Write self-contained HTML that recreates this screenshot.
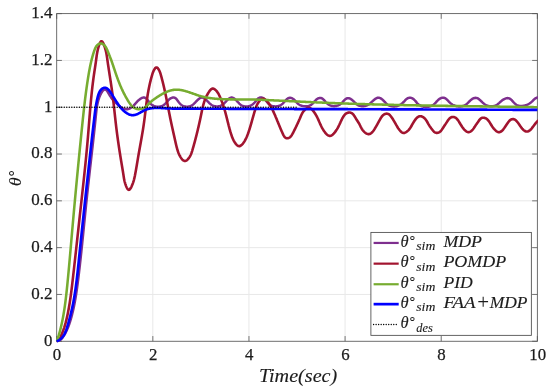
<!DOCTYPE html>
<html><head><meta charset="utf-8"><title>plot</title>
<style>
html,body{margin:0;padding:0;background:#fff;}
svg{display:block;}
text{font-family:"Liberation Serif",serif;fill:#1c1c1c;stroke:#1c1c1c;stroke-width:0.25;}
.it{font-style:italic;stroke-width:0.12;}
.rm{font-style:normal;stroke-width:0;}
.grid line{stroke:#e8e8e8;stroke-width:1;}
.ticks line{stroke:#555;stroke-width:0.8;}
.curve{fill:none;stroke-linejoin:round;stroke-linecap:butt;}
</style></head><body>
<svg width="550" height="391" viewBox="0 0 550 391">
<rect x="0" y="0" width="550" height="391" fill="#fff"/>
<g class="grid"><line x1="152.83" y1="13.62" x2="152.83" y2="341.26"/><line x1="248.96" y1="13.62" x2="248.96" y2="341.26"/><line x1="345.09" y1="13.62" x2="345.09" y2="341.26"/><line x1="441.22" y1="13.62" x2="441.22" y2="341.26"/><line x1="56.7" y1="294.45" x2="537.35" y2="294.45"/><line x1="56.7" y1="247.65" x2="537.35" y2="247.65"/><line x1="56.7" y1="200.84" x2="537.35" y2="200.84"/><line x1="56.7" y1="154.04" x2="537.35" y2="154.04"/><line x1="56.7" y1="107.23" x2="537.35" y2="107.23"/><line x1="56.7" y1="60.43" x2="537.35" y2="60.43"/></g>
<g class="ticks"><line x1="56.70" y1="341.26" x2="56.70" y2="336.06"/><line x1="56.70" y1="13.62" x2="56.70" y2="18.82"/><line x1="152.83" y1="341.26" x2="152.83" y2="336.06"/><line x1="152.83" y1="13.62" x2="152.83" y2="18.82"/><line x1="248.96" y1="341.26" x2="248.96" y2="336.06"/><line x1="248.96" y1="13.62" x2="248.96" y2="18.82"/><line x1="345.09" y1="341.26" x2="345.09" y2="336.06"/><line x1="345.09" y1="13.62" x2="345.09" y2="18.82"/><line x1="441.22" y1="341.26" x2="441.22" y2="336.06"/><line x1="441.22" y1="13.62" x2="441.22" y2="18.82"/><line x1="537.35" y1="341.26" x2="537.35" y2="336.06"/><line x1="537.35" y1="13.62" x2="537.35" y2="18.82"/><line x1="56.7" y1="341.26" x2="61.900000000000006" y2="341.26"/><line x1="537.35" y1="341.26" x2="532.15" y2="341.26"/><line x1="56.7" y1="294.45" x2="61.900000000000006" y2="294.45"/><line x1="537.35" y1="294.45" x2="532.15" y2="294.45"/><line x1="56.7" y1="247.65" x2="61.900000000000006" y2="247.65"/><line x1="537.35" y1="247.65" x2="532.15" y2="247.65"/><line x1="56.7" y1="200.84" x2="61.900000000000006" y2="200.84"/><line x1="537.35" y1="200.84" x2="532.15" y2="200.84"/><line x1="56.7" y1="154.04" x2="61.900000000000006" y2="154.04"/><line x1="537.35" y1="154.04" x2="532.15" y2="154.04"/><line x1="56.7" y1="107.23" x2="61.900000000000006" y2="107.23"/><line x1="537.35" y1="107.23" x2="532.15" y2="107.23"/><line x1="56.7" y1="60.43" x2="61.900000000000006" y2="60.43"/><line x1="537.35" y1="60.43" x2="532.15" y2="60.43"/><line x1="56.7" y1="13.62" x2="61.900000000000006" y2="13.62"/><line x1="537.35" y1="13.62" x2="532.15" y2="13.62"/></g>
<rect x="56.7" y="13.62" width="480.65" height="327.64" fill="none" stroke="#555" stroke-width="0.85"/>
<clipPath id="c"><rect x="55.7" y="13.62" width="482.25" height="329.14"/></clipPath>
<g clip-path="url(#c)">
<path class="curve" d="M56.57 341.19 L57.30 341.08 L57.98 340.92 L58.61 340.72 L59.20 340.47 L59.75 340.19 L60.27 339.87 L60.75 339.52 L61.20 339.14 L61.62 338.73 L62.02 338.30 L62.40 337.85 L62.76 337.38 L63.10 336.90 L63.43 336.41 L63.75 335.91 L64.06 335.40 L64.37 334.90 L64.67 334.38 L64.96 333.87 L65.24 333.35 L65.52 332.82 L65.80 332.29 L66.07 331.76 L66.33 331.23 L66.59 330.69 L66.84 330.15 L67.08 329.60 L67.33 329.05 L67.56 328.50 L67.79 327.95 L68.02 327.40 L68.24 326.84 L68.46 326.28 L68.67 325.72 L68.88 325.15 L69.08 324.58 L69.28 324.02 L69.48 323.44 L69.67 322.87 L69.85 322.30 L70.04 321.72 L70.22 321.15 L70.40 320.57 L70.57 319.99 L70.74 319.41 L70.91 318.83 L71.08 318.25 L71.24 317.66 L71.40 317.08 L71.56 316.50 L71.71 315.91 L71.87 315.33 L72.02 314.74 L72.17 314.16 L72.31 313.57 L72.46 312.99 L72.60 312.40 L72.74 311.82 L72.88 311.23 L73.01 310.65 L73.15 310.06 L73.28 309.47 L73.41 308.88 L73.54 308.30 L73.67 307.71 L73.79 307.12 L73.91 306.53 L74.04 305.95 L74.16 305.36 L74.27 304.77 L74.39 304.18 L74.50 303.59 L74.62 303.00 L74.73 302.41 L74.84 301.82 L74.95 301.23 L75.05 300.64 L75.16 300.05 L75.26 299.46 L75.37 298.87 L75.47 298.28 L75.57 297.69 L75.67 297.10 L75.76 296.51 L75.86 295.92 L75.96 295.33 L76.05 294.73 L76.14 294.14 L76.23 293.55 L76.32 292.96 L76.41 292.37 L76.50 291.77 L76.59 291.18 L76.68 290.59 L76.76 289.99 L76.85 289.40 L76.93 288.81 L77.01 288.22 L77.10 287.62 L77.18 287.03 L77.26 286.43 L77.34 285.84 L77.42 285.25 L77.50 284.65 L77.57 284.06 L77.65 283.47 L77.73 282.87 L77.81 282.28 L77.88 281.68 L77.96 281.09 L78.03 280.49 L78.11 279.90 L78.18 279.31 L78.26 278.71 L78.33 278.12 L78.40 277.52 L78.48 276.93 L78.55 276.33 L78.62 275.74 L78.69 275.14 L78.76 274.55 L78.84 273.95 L78.91 273.36 L78.98 272.76 L79.05 272.17 L79.12 271.57 L79.19 270.97 L79.26 270.38 L79.33 269.78 L79.40 269.19 L79.47 268.59 L79.54 268.00 L79.60 267.40 L79.67 266.81 L79.74 266.21 L79.81 265.61 L79.88 265.02 L79.94 264.42 L80.01 263.83 L80.08 263.23 L80.14 262.63 L80.21 262.04 L80.28 261.44 L80.34 260.85 L80.41 260.25 L80.47 259.65 L80.54 259.06 L80.60 258.46 L80.67 257.86 L80.73 257.27 L80.80 256.67 L80.86 256.08 L80.93 255.48 L80.99 254.88 L81.05 254.29 L81.12 253.69 L81.18 253.09 L81.25 252.50 L81.31 251.90 L81.37 251.30 L81.43 250.71 L81.50 250.11 L81.56 249.51 L81.62 248.92 L81.68 248.32 L81.75 247.72 L81.81 247.12 L81.87 246.53 L81.93 245.93 L81.99 245.33 L82.06 244.74 L82.12 244.14 L82.18 243.54 L82.24 242.95 L82.30 242.35 L82.36 241.75 L82.42 241.15 L82.48 240.56 L82.54 239.96 L82.60 239.36 L82.67 238.77 L82.73 238.17 L82.79 237.57 L82.85 236.97 L82.91 236.38 L82.97 235.78 L83.03 235.18 L83.09 234.58 L83.15 233.99 L83.21 233.39 L83.27 232.79 L83.33 232.19 L83.39 231.60 L83.45 231.00 L83.51 230.40 L83.57 229.81 L83.63 229.21 L83.69 228.61 L83.75 228.01 L83.80 227.42 L83.86 226.82 L83.92 226.22 L83.98 225.62 L84.04 225.03 L84.10 224.43 L84.16 223.83 L84.22 223.23 L84.28 222.64 L84.34 222.04 L84.40 221.44 L84.46 220.84 L84.52 220.25 L84.58 219.65 L84.64 219.05 L84.70 218.46 L84.76 217.86 L84.82 217.26 L84.88 216.66 L84.94 216.07 L85.00 215.47 L85.06 214.87 L85.12 214.27 L85.18 213.68 L85.24 213.08 L85.30 212.48 L85.36 211.89 L85.42 211.29 L85.48 210.69 L85.54 210.09 L85.60 209.50 L85.67 208.90 L85.73 208.30 L85.79 207.71 L85.85 207.11 L85.91 206.51 L85.97 205.91 L86.03 205.32 L86.09 204.72 L86.16 204.12 L86.22 203.53 L86.28 202.93 L86.34 202.33 L86.41 201.74 L86.47 201.14 L86.53 200.54 L86.59 199.95 L86.66 199.35 L86.72 198.75 L86.78 198.16 L86.85 197.56 L86.91 196.96 L86.97 196.37 L87.04 195.77 L87.10 195.17 L87.16 194.58 L87.23 193.98 L87.29 193.38 L87.36 192.79 L87.42 192.19 L87.49 191.59 L87.55 191.00 L87.62 190.40 L87.68 189.81 L87.75 189.21 L87.81 188.61 L87.88 188.02 L87.94 187.42 L88.01 186.82 L88.07 186.23 L88.14 185.63 L88.20 185.04 L88.27 184.44 L88.34 183.84 L88.40 183.25 L88.47 182.65 L88.54 182.06 L88.60 181.46 L88.67 180.86 L88.73 180.27 L88.80 179.67 L88.87 179.08 L88.93 178.48 L89.00 177.88 L89.07 177.29 L89.14 176.69 L89.20 176.10 L89.27 175.50 L89.34 174.90 L89.40 174.31 L89.47 173.71 L89.54 173.12 L89.60 172.52 L89.67 171.92 L89.74 171.33 L89.81 170.73 L89.87 170.14 L89.94 169.54 L90.01 168.94 L90.08 168.35 L90.14 167.75 L90.21 167.16 L90.28 166.56 L90.35 165.96 L90.41 165.37 L90.48 164.77 L90.55 164.18 L90.62 163.58 L90.69 162.99 L90.75 162.39 L90.82 161.79 L90.89 161.20 L90.96 160.60 L91.02 160.01 L91.09 159.41 L91.16 158.81 L91.23 158.22 L91.29 157.62 L91.36 157.03 L91.43 156.43 L91.50 155.83 L91.56 155.24 L91.63 154.64 L91.70 154.05 L91.77 153.45 L91.83 152.85 L91.90 152.26 L91.97 151.66 L92.04 151.06 L92.10 150.47 L92.17 149.87 L92.24 149.28 L92.30 148.68 L92.37 148.08 L92.44 147.49 L92.51 146.89 L92.57 146.30 L92.64 145.70 L92.71 145.10 L92.77 144.51 L92.84 143.91 L92.91 143.31 L92.97 142.72 L93.04 142.12 L93.10 141.52 L93.17 140.93 L93.24 140.33 L93.30 139.73 L93.37 139.14 L93.43 138.54 L93.50 137.94 L93.57 137.35 L93.63 136.75 L93.70 136.15 L93.76 135.56 L93.83 134.96 L93.89 134.36 L93.96 133.77 L94.02 133.17 L94.09 132.57 L94.15 131.98 L94.22 131.38 L94.28 130.78 L94.35 130.19 L94.41 129.59 L94.47 128.99 L94.54 128.39 L94.60 127.80 L94.66 127.20 L94.73 126.60 L94.79 126.01 L94.85 125.41 L94.92 124.81 L94.98 124.21 L95.04 123.62 L95.11 123.02 L95.17 122.42 L95.23 121.82 L95.29 121.23 L95.36 120.63 L95.42 120.03 L95.48 119.43 L95.54 118.83 L95.60 118.24 L95.66 117.64 L95.72 117.04 L95.78 116.44 L95.84 115.84 L95.91 115.25 L95.97 114.65 L96.03 114.05 L96.09 113.45 L96.15 112.86 L96.22 112.26 L96.28 111.66 L96.35 111.07 L96.42 110.47 L96.50 109.88 L96.57 109.28 L96.65 108.69 L96.74 108.10 L96.82 107.51 L96.91 106.92 L97.01 106.33 L97.11 105.74 L97.21 105.15 L97.32 104.57 L97.44 103.99 L97.56 103.40 L97.69 102.82 L97.82 102.25 L97.96 101.67 L98.11 101.09 L98.27 100.52 L98.43 99.95 L98.60 99.38 L98.78 98.82 L98.97 98.25 L99.17 97.68 L99.38 97.11 L99.61 96.53 L99.86 95.94 L100.12 95.34 L100.41 94.71 L100.73 94.08 L101.06 93.44 L101.41 92.81 L101.78 92.20 L102.16 91.62 L102.55 91.08 L102.95 90.59 L103.35 90.17 L103.76 89.83 L104.17 89.57 L104.58 89.41 L104.98 89.37 L105.38 89.44 L105.77 89.63 L106.15 89.91 L106.53 90.28 L106.91 90.72 L107.28 91.23 L107.65 91.78 L108.02 92.38 L108.38 93.00 L108.74 93.63 L109.10 94.26 L109.46 94.88 L109.82 95.49 L110.18 96.06 L110.54 96.62 L110.90 97.15 L111.26 97.67 L111.62 98.17 L111.99 98.65 L112.36 99.12 L112.73 99.57 L113.11 100.01 L113.49 100.44 L113.87 100.86 L114.26 101.28 L114.65 101.69 L115.05 102.09 L115.46 102.49 L115.87 102.89 L116.29 103.28 L116.72 103.68 L117.15 104.08 L117.60 104.47 L118.05 104.86 L118.51 105.24 L118.98 105.62 L119.46 106.00 L119.95 106.36 L120.45 106.72 L120.96 107.07 L121.48 107.41 L122.01 107.74 L122.56 108.05 L123.11 108.34 L123.67 108.59 L124.23 108.82 L124.80 109.00 L125.38 109.14 L125.96 109.23 L126.54 109.26 L127.12 109.23 L127.71 109.14 L128.29 109.01 L128.86 108.82 L129.43 108.60 L129.99 108.33 L130.53 108.04 L131.05 107.71 L131.56 107.37 L132.04 107.00 L132.51 106.62 L132.95 106.22 L133.38 105.81 L133.79 105.40 L134.19 104.97 L134.58 104.54 L134.97 104.10 L135.36 103.65 L135.75 103.20 L136.14 102.75 L136.54 102.30 L136.95 101.85 L137.38 101.41 L137.82 100.96 L138.28 100.52 L138.77 100.09 L139.28 99.67 L139.81 99.26 L140.37 98.87 L140.93 98.52 L141.50 98.21 L142.08 97.94 L142.64 97.74 L143.20 97.60 L143.73 97.55 L144.25 97.57 L144.74 97.68 L145.21 97.87 L145.66 98.13 L146.10 98.45 L146.52 98.82 L146.94 99.23 L147.34 99.68 L147.74 100.16 L148.13 100.66 L148.53 101.18 L148.92 101.70 L149.32 102.21 L149.73 102.72 L150.14 103.21 L150.57 103.67 L151.01 104.10 L151.47 104.49 L151.94 104.85 L152.42 105.17 L152.92 105.47 L153.43 105.73 L153.95 105.95 L154.48 106.15 L155.03 106.32 L155.58 106.45 L156.15 106.55 L156.73 106.63 L157.32 106.67 L157.91 106.69 L158.52 106.68 L159.12 106.64 L159.73 106.56 L160.33 106.45 L160.93 106.31 L161.51 106.14 L162.09 105.93 L162.64 105.68 L163.18 105.40 L163.69 105.08 L164.17 104.72 L164.64 104.33 L165.08 103.91 L165.51 103.47 L165.93 103.02 L166.34 102.55 L166.74 102.08 L167.14 101.60 L167.54 101.13 L167.94 100.67 L168.35 100.22 L168.77 99.78 L169.20 99.37 L169.65 98.99 L170.11 98.64 L170.59 98.33 L171.10 98.06 L171.64 97.84 L172.20 97.68 L172.77 97.57 L173.34 97.53 L173.91 97.56 L174.46 97.67 L174.98 97.87 L175.46 98.15 L175.91 98.51 L176.34 98.93 L176.74 99.40 L177.13 99.90 L177.51 100.42 L177.88 100.96 L178.25 101.48 L178.63 102.00 L179.02 102.49 L179.41 102.96 L179.81 103.41 L180.22 103.84 L180.65 104.24 L181.09 104.62 L181.54 104.97 L182.01 105.29 L182.50 105.58 L183.00 105.84 L183.52 106.06 L184.07 106.25 L184.64 106.41 L185.23 106.53 L185.84 106.61 L186.46 106.65 L187.09 106.66 L187.72 106.63 L188.36 106.56 L188.98 106.46 L189.59 106.32 L190.17 106.14 L190.74 105.93 L191.27 105.68 L191.78 105.40 L192.27 105.09 L192.74 104.76 L193.19 104.40 L193.64 104.02 L194.06 103.63 L194.49 103.22 L194.90 102.79 L195.32 102.36 L195.73 101.92 L196.15 101.48 L196.57 101.04 L197.00 100.59 L197.44 100.16 L197.90 99.73 L198.37 99.31 L198.86 98.92 L199.36 98.55 L199.88 98.22 L200.41 97.94 L200.94 97.74 L201.47 97.61 L202.01 97.57 L202.55 97.62 L203.08 97.77 L203.61 97.99 L204.13 98.28 L204.64 98.62 L205.14 98.99 L205.62 99.39 L206.09 99.81 L206.54 100.23 L206.98 100.67 L207.41 101.10 L207.84 101.53 L208.26 101.97 L208.68 102.40 L209.10 102.82 L209.52 103.22 L209.95 103.62 L210.39 104.00 L210.84 104.36 L211.30 104.70 L211.79 105.02 L212.29 105.30 L212.81 105.56 L213.36 105.79 L213.93 105.98 L214.52 106.13 L215.13 106.25 L215.75 106.34 L216.38 106.39 L217.01 106.40 L217.65 106.38 L218.27 106.33 L218.89 106.23 L219.50 106.11 L220.08 105.94 L220.65 105.74 L221.18 105.51 L221.70 105.24 L222.19 104.94 L222.66 104.61 L223.12 104.26 L223.56 103.89 L223.99 103.50 L224.41 103.09 L224.83 102.67 L225.24 102.24 L225.66 101.80 L226.07 101.36 L226.50 100.92 L226.93 100.48 L227.37 100.05 L227.82 99.62 L228.29 99.20 L228.78 98.81 L229.28 98.44 L229.79 98.13 L230.31 97.87 L230.84 97.69 L231.37 97.59 L231.90 97.59 L232.44 97.69 L232.97 97.87 L233.49 98.13 L234.01 98.44 L234.51 98.80 L235.00 99.20 L235.47 99.62 L235.93 100.05 L236.37 100.48 L236.80 100.93 L237.22 101.38 L237.63 101.82 L238.05 102.27 L238.46 102.70 L238.88 103.13 L239.30 103.55 L239.72 103.94 L240.17 104.32 L240.62 104.68 L241.09 105.01 L241.58 105.31 L242.10 105.59 L242.64 105.82 L243.20 106.02 L243.79 106.18 L244.40 106.30 L245.03 106.39 L245.66 106.44 L246.29 106.46 L246.92 106.44 L247.54 106.39 L248.15 106.30 L248.75 106.18 L249.32 106.03 L249.87 105.85 L250.40 105.63 L250.92 105.39 L251.42 105.12 L251.91 104.83 L252.38 104.50 L252.84 104.15 L253.29 103.78 L253.73 103.39 L254.16 102.97 L254.58 102.53 L254.99 102.08 L255.40 101.60 L255.80 101.10 L256.20 100.60 L256.60 100.09 L257.01 99.60 L257.43 99.14 L257.87 98.71 L258.33 98.33 L258.81 98.01 L259.32 97.77 L259.86 97.61 L260.43 97.53 L261.00 97.52 L261.58 97.58 L262.14 97.71 L262.69 97.89 L263.20 98.14 L263.69 98.43 L264.16 98.77 L264.60 99.15 L265.02 99.56 L265.43 100.00 L265.83 100.46 L266.22 100.94 L266.61 101.42 L267.00 101.91 L267.39 102.40 L267.79 102.88 L268.20 103.34 L268.62 103.79 L269.06 104.21 L269.52 104.60 L270.01 104.96 L270.52 105.27 L271.06 105.54 L271.62 105.77 L272.20 105.96 L272.79 106.11 L273.39 106.23 L273.99 106.31 L274.60 106.36 L275.20 106.38 L275.80 106.38 L276.39 106.34 L276.97 106.27 L277.54 106.18 L278.10 106.06 L278.66 105.91 L279.20 105.73 L279.73 105.51 L280.25 105.27 L280.76 105.00 L281.26 104.70 L281.75 104.36 L282.23 103.99 L282.70 103.60 L283.15 103.17 L283.59 102.71 L284.03 102.24 L284.46 101.75 L284.88 101.27 L285.31 100.79 L285.74 100.32 L286.16 99.86 L286.60 99.44 L287.04 99.05 L287.50 98.70 L287.96 98.40 L288.44 98.15 L288.93 97.97 L289.45 97.86 L289.98 97.82 L290.54 97.87 L291.11 97.99 L291.68 98.18 L292.25 98.43 L292.81 98.73 L293.36 99.07 L293.87 99.46 L294.35 99.87 L294.80 100.30 L295.23 100.75 L295.64 101.22 L296.04 101.68 L296.44 102.14 L296.84 102.59 L297.24 103.03 L297.67 103.44 L298.11 103.83 L298.57 104.18 L299.06 104.50 L299.56 104.80 L300.08 105.07 L300.62 105.31 L301.17 105.52 L301.73 105.71 L302.31 105.87 L302.89 106.01 L303.49 106.12 L304.09 106.20 L304.70 106.27 L305.31 106.30 L305.92 106.31 L306.53 106.29 L307.13 106.23 L307.73 106.15 L308.32 106.03 L308.89 105.88 L309.45 105.69 L310.00 105.46 L310.53 105.19 L311.03 104.88 L311.51 104.53 L311.98 104.15 L312.43 103.74 L312.86 103.30 L313.28 102.85 L313.70 102.39 L314.11 101.92 L314.53 101.45 L314.94 100.99 L315.36 100.54 L315.79 100.11 L316.23 99.70 L316.68 99.33 L317.15 98.98 L317.65 98.68 L318.16 98.43 L318.70 98.23 L319.26 98.09 L319.84 98.01 L320.41 98.00 L320.97 98.06 L321.51 98.20 L322.03 98.42 L322.52 98.72 L322.98 99.08 L323.43 99.49 L323.86 99.94 L324.28 100.42 L324.70 100.90 L325.12 101.39 L325.54 101.86 L325.97 102.32 L326.41 102.75 L326.85 103.17 L327.30 103.57 L327.76 103.94 L328.24 104.29 L328.72 104.61 L329.22 104.91 L329.73 105.17 L330.25 105.41 L330.79 105.61 L331.34 105.79 L331.90 105.93 L332.49 106.03 L333.09 106.10 L333.70 106.13 L334.32 106.13 L334.94 106.09 L335.56 106.02 L336.17 105.92 L336.78 105.79 L337.37 105.63 L337.95 105.44 L338.51 105.22 L339.05 104.97 L339.55 104.69 L340.03 104.39 L340.48 104.06 L340.92 103.71 L341.34 103.33 L341.76 102.92 L342.17 102.50 L342.59 102.05 L343.03 101.58 L343.47 101.10 L343.94 100.60 L344.42 100.12 L344.90 99.66 L345.40 99.23 L345.91 98.86 L346.42 98.56 L346.93 98.33 L347.45 98.19 L347.97 98.14 L348.49 98.16 L349.01 98.26 L349.52 98.41 L350.04 98.63 L350.55 98.90 L351.05 99.21 L351.55 99.56 L352.04 99.94 L352.52 100.34 L353.00 100.76 L353.46 101.19 L353.91 101.62 L354.36 102.05 L354.79 102.48 L355.22 102.89 L355.65 103.30 L356.08 103.68 L356.52 104.06 L356.97 104.41 L357.43 104.73 L357.91 105.03 L358.41 105.30 L358.94 105.54 L359.49 105.74 L360.07 105.90 L360.67 106.03 L361.28 106.13 L361.91 106.18 L362.54 106.21 L363.17 106.20 L363.80 106.16 L364.43 106.08 L365.05 105.97 L365.66 105.83 L366.24 105.65 L366.81 105.45 L367.35 105.21 L367.87 104.95 L368.37 104.66 L368.85 104.34 L369.33 104.01 L369.79 103.66 L370.24 103.29 L370.68 102.91 L371.12 102.52 L371.55 102.12 L371.99 101.71 L372.43 101.30 L372.88 100.89 L373.33 100.48 L373.79 100.08 L374.26 99.68 L374.75 99.29 L375.25 98.91 L375.76 98.57 L376.29 98.26 L376.82 98.01 L377.36 97.81 L377.91 97.69 L378.46 97.66 L379.01 97.71 L379.56 97.85 L380.10 98.05 L380.64 98.32 L381.17 98.64 L381.68 99.00 L382.17 99.39 L382.64 99.80 L383.09 100.23 L383.53 100.66 L383.96 101.10 L384.37 101.54 L384.79 101.98 L385.20 102.42 L385.61 102.85 L386.03 103.27 L386.46 103.67 L386.90 104.06 L387.35 104.42 L387.83 104.76 L388.33 105.06 L388.86 105.34 L389.40 105.58 L389.97 105.80 L390.55 105.98 L391.15 106.13 L391.75 106.26 L392.36 106.35 L392.98 106.41 L393.60 106.44 L394.21 106.45 L394.82 106.42 L395.43 106.36 L396.03 106.28 L396.61 106.17 L397.18 106.02 L397.74 105.85 L398.28 105.66 L398.82 105.44 L399.34 105.19 L399.85 104.92 L400.36 104.63 L400.85 104.31 L401.33 103.98 L401.81 103.62 L402.27 103.24 L402.73 102.85 L403.17 102.43 L403.61 102.00 L404.05 101.55 L404.47 101.09 L404.90 100.63 L405.32 100.16 L405.75 99.72 L406.20 99.29 L406.66 98.90 L407.13 98.55 L407.64 98.26 L408.17 98.03 L408.73 97.87 L409.31 97.78 L409.91 97.75 L410.50 97.79 L411.09 97.89 L411.66 98.05 L412.20 98.26 L412.71 98.53 L413.19 98.85 L413.65 99.21 L414.09 99.61 L414.52 100.03 L414.93 100.48 L415.33 100.94 L415.73 101.42 L416.13 101.90 L416.53 102.37 L416.93 102.84 L417.35 103.30 L417.79 103.74 L418.24 104.14 L418.71 104.52 L419.20 104.88 L419.70 105.20 L420.22 105.49 L420.76 105.76 L421.30 106.00 L421.86 106.21 L422.43 106.39 L423.00 106.55 L423.58 106.67 L424.17 106.77 L424.76 106.85 L425.36 106.89 L425.96 106.91 L426.55 106.90 L427.15 106.87 L427.75 106.80 L428.34 106.72 L428.92 106.60 L429.50 106.46 L430.08 106.29 L430.64 106.10 L431.20 105.88 L431.74 105.64 L432.27 105.37 L432.79 105.07 L433.29 104.75 L433.77 104.40 L434.24 104.03 L434.68 103.64 L435.11 103.22 L435.53 102.78 L435.94 102.34 L436.34 101.88 L436.75 101.42 L437.16 100.97 L437.58 100.52 L438.02 100.08 L438.47 99.67 L438.95 99.27 L439.45 98.90 L439.97 98.57 L440.50 98.28 L441.05 98.04 L441.60 97.85 L442.17 97.73 L442.73 97.68 L443.29 97.70 L443.85 97.80 L444.41 97.97 L444.95 98.19 L445.48 98.47 L445.99 98.80 L446.48 99.17 L446.95 99.58 L447.39 100.02 L447.82 100.47 L448.24 100.94 L448.65 101.40 L449.08 101.85 L449.51 102.28 L449.95 102.69 L450.41 103.08 L450.87 103.46 L451.34 103.81 L451.83 104.15 L452.32 104.46 L452.82 104.76 L453.34 105.03 L453.86 105.28 L454.40 105.50 L454.94 105.71 L455.50 105.89 L456.06 106.05 L456.64 106.18 L457.23 106.29 L457.82 106.37 L458.43 106.43 L459.03 106.46 L459.65 106.46 L460.26 106.44 L460.87 106.39 L461.47 106.31 L462.07 106.19 L462.67 106.05 L463.25 105.88 L463.82 105.68 L464.37 105.44 L464.91 105.18 L465.43 104.87 L465.93 104.54 L466.42 104.18 L466.89 103.80 L467.35 103.39 L467.79 102.98 L468.23 102.55 L468.67 102.11 L469.10 101.68 L469.54 101.25 L469.97 100.82 L470.41 100.41 L470.86 100.01 L471.32 99.63 L471.79 99.28 L472.27 98.95 L472.77 98.66 L473.29 98.41 L473.83 98.20 L474.39 98.03 L474.96 97.92 L475.54 97.87 L476.12 97.88 L476.69 97.96 L477.25 98.12 L477.78 98.36 L478.30 98.68 L478.80 99.04 L479.28 99.44 L479.74 99.85 L480.20 100.26 L480.65 100.68 L481.09 101.10 L481.52 101.51 L481.96 101.92 L482.39 102.32 L482.83 102.71 L483.27 103.10 L483.72 103.47 L484.17 103.83 L484.64 104.17 L485.11 104.49 L485.61 104.79 L486.12 105.06 L486.65 105.31 L487.20 105.54 L487.77 105.73 L488.36 105.90 L488.97 106.04 L489.59 106.14 L490.22 106.22 L490.85 106.26 L491.48 106.27 L492.11 106.25 L492.74 106.19 L493.36 106.11 L493.96 105.98 L494.55 105.83 L495.12 105.63 L495.67 105.40 L496.19 105.14 L496.70 104.85 L497.19 104.54 L497.67 104.20 L498.14 103.84 L498.59 103.47 L499.04 103.09 L499.49 102.69 L499.94 102.30 L500.38 101.90 L500.83 101.50 L501.29 101.11 L501.75 100.72 L502.22 100.35 L502.71 99.99 L503.21 99.65 L503.73 99.34 L504.27 99.05 L504.81 98.79 L505.36 98.57 L505.92 98.39 L506.48 98.25 L507.03 98.16 L507.58 98.12 L508.12 98.14 L508.65 98.22 L509.15 98.37 L509.64 98.58 L510.11 98.85 L510.57 99.18 L511.02 99.55 L511.46 99.95 L511.89 100.39 L512.32 100.85 L512.75 101.32 L513.18 101.80 L513.61 102.29 L514.05 102.76 L514.50 103.23 L514.96 103.67 L515.43 104.08 L515.93 104.46 L516.44 104.79 L516.96 105.08 L517.51 105.32 L518.07 105.52 L518.65 105.69 L519.23 105.81 L519.83 105.89 L520.43 105.95 L521.03 105.97 L521.64 105.96 L522.24 105.92 L522.84 105.86 L523.44 105.77 L524.03 105.66 L524.61 105.53 L525.18 105.38 L525.74 105.20 L526.30 105.01 L526.84 104.80 L527.38 104.57 L527.91 104.32 L528.43 104.05 L528.94 103.76 L529.44 103.45 L529.94 103.12 L530.42 102.78 L530.90 102.42 L531.36 102.04 L531.82 101.64 L532.27 101.22 L532.71 100.80 L533.14 100.36 L533.58 99.92 L534.02 99.50 L534.47 99.09 L534.93 98.70 L535.41 98.35 L535.92 98.05 L536.45 97.79 L537.01 97.60 L537.60 97.47 L538.24 97.42 L538.51 97.42" stroke="#7E2F8E" stroke-width="2.5"/>
<path class="curve" d="M56.68 341.26 L57.23 340.93 L57.73 340.57 L58.19 340.18 L58.61 339.76 L59.00 339.31 L59.36 338.83 L59.69 338.34 L59.99 337.83 L60.28 337.30 L60.56 336.76 L60.82 336.22 L61.08 335.68 L61.32 335.13 L61.57 334.58 L61.81 334.03 L62.04 333.47 L62.27 332.92 L62.50 332.36 L62.72 331.80 L62.93 331.24 L63.14 330.68 L63.35 330.12 L63.55 329.55 L63.74 328.98 L63.94 328.41 L64.13 327.85 L64.31 327.27 L64.49 326.70 L64.67 326.13 L64.84 325.55 L65.01 324.98 L65.18 324.40 L65.34 323.82 L65.50 323.24 L65.66 322.67 L65.81 322.08 L65.96 321.50 L66.11 320.92 L66.26 320.34 L66.40 319.75 L66.54 319.17 L66.68 318.59 L66.81 318.00 L66.95 317.41 L67.08 316.83 L67.21 316.24 L67.34 315.66 L67.46 315.07 L67.59 314.48 L67.71 313.89 L67.83 313.30 L67.95 312.72 L68.06 312.13 L68.18 311.54 L68.29 310.95 L68.41 310.36 L68.52 309.77 L68.63 309.18 L68.73 308.59 L68.84 308.00 L68.95 307.41 L69.05 306.82 L69.15 306.23 L69.25 305.64 L69.35 305.05 L69.45 304.45 L69.55 303.86 L69.64 303.27 L69.74 302.68 L69.83 302.08 L69.92 301.49 L70.01 300.90 L70.10 300.31 L70.19 299.71 L70.28 299.12 L70.37 298.53 L70.45 297.93 L70.54 297.34 L70.62 296.74 L70.70 296.15 L70.79 295.56 L70.87 294.96 L70.95 294.37 L71.03 293.77 L71.11 293.18 L71.18 292.58 L71.26 291.99 L71.34 291.39 L71.41 290.80 L71.49 290.20 L71.56 289.61 L71.64 289.01 L71.71 288.42 L71.78 287.82 L71.85 287.22 L71.93 286.63 L72.00 286.03 L72.07 285.44 L72.14 284.84 L72.21 284.24 L72.28 283.65 L72.35 283.05 L72.42 282.46 L72.49 281.86 L72.56 281.26 L72.63 280.67 L72.69 280.07 L72.76 279.47 L72.83 278.88 L72.90 278.28 L72.97 277.69 L73.03 277.09 L73.10 276.49 L73.17 275.90 L73.24 275.30 L73.31 274.70 L73.37 274.11 L73.44 273.51 L73.51 272.92 L73.58 272.32 L73.64 271.72 L73.71 271.13 L73.78 270.53 L73.84 269.93 L73.91 269.34 L73.98 268.74 L74.05 268.15 L74.11 267.55 L74.18 266.95 L74.25 266.36 L74.31 265.76 L74.38 265.16 L74.45 264.57 L74.51 263.97 L74.58 263.38 L74.65 262.78 L74.71 262.18 L74.78 261.59 L74.85 260.99 L74.91 260.39 L74.98 259.80 L75.05 259.20 L75.11 258.61 L75.18 258.01 L75.24 257.41 L75.31 256.82 L75.38 256.22 L75.44 255.62 L75.51 255.03 L75.57 254.43 L75.64 253.84 L75.71 253.24 L75.77 252.64 L75.84 252.05 L75.90 251.45 L75.97 250.86 L76.04 250.26 L76.10 249.66 L76.17 249.07 L76.23 248.47 L76.30 247.87 L76.36 247.28 L76.43 246.68 L76.50 246.09 L76.56 245.49 L76.63 244.89 L76.69 244.30 L76.76 243.70 L76.82 243.10 L76.89 242.51 L76.95 241.91 L77.02 241.32 L77.09 240.72 L77.15 240.12 L77.22 239.53 L77.28 238.93 L77.35 238.33 L77.41 237.74 L77.48 237.14 L77.54 236.55 L77.61 235.95 L77.67 235.35 L77.74 234.76 L77.80 234.16 L77.87 233.56 L77.93 232.97 L78.00 232.37 L78.07 231.78 L78.13 231.18 L78.20 230.58 L78.26 229.99 L78.33 229.39 L78.39 228.79 L78.46 228.20 L78.52 227.60 L78.59 227.01 L78.65 226.41 L78.72 225.81 L78.78 225.22 L78.85 224.62 L78.91 224.02 L78.98 223.43 L79.04 222.83 L79.11 222.23 L79.18 221.64 L79.24 221.04 L79.31 220.45 L79.37 219.85 L79.44 219.25 L79.50 218.66 L79.57 218.06 L79.63 217.46 L79.70 216.87 L79.76 216.27 L79.83 215.67 L79.89 215.08 L79.96 214.48 L80.03 213.89 L80.09 213.29 L80.16 212.69 L80.22 212.10 L80.29 211.50 L80.35 210.90 L80.42 210.31 L80.49 209.71 L80.55 209.11 L80.62 208.52 L80.68 207.92 L80.75 207.32 L80.81 206.73 L80.88 206.13 L80.95 205.53 L81.01 204.94 L81.08 204.34 L81.14 203.75 L81.21 203.15 L81.28 202.55 L81.34 201.96 L81.41 201.36 L81.47 200.76 L81.54 200.17 L81.61 199.57 L81.67 198.97 L81.74 198.38 L81.80 197.78 L81.87 197.18 L81.93 196.59 L82.00 195.99 L82.07 195.39 L82.13 194.80 L82.20 194.20 L82.26 193.60 L82.33 193.01 L82.39 192.41 L82.46 191.81 L82.52 191.22 L82.59 190.62 L82.66 190.02 L82.72 189.43 L82.79 188.83 L82.85 188.23 L82.92 187.64 L82.98 187.04 L83.05 186.44 L83.11 185.85 L83.18 185.25 L83.24 184.65 L83.30 184.06 L83.37 183.46 L83.43 182.86 L83.50 182.27 L83.56 181.67 L83.63 181.07 L83.69 180.48 L83.75 179.88 L83.82 179.28 L83.88 178.69 L83.95 178.09 L84.01 177.49 L84.07 176.90 L84.14 176.30 L84.20 175.70 L84.26 175.11 L84.33 174.51 L84.39 173.91 L84.45 173.31 L84.51 172.72 L84.58 172.12 L84.64 171.52 L84.70 170.93 L84.76 170.33 L84.83 169.73 L84.89 169.14 L84.95 168.54 L85.01 167.94 L85.07 167.35 L85.13 166.75 L85.19 166.15 L85.26 165.55 L85.32 164.96 L85.38 164.36 L85.44 163.76 L85.50 163.17 L85.56 162.57 L85.62 161.97 L85.68 161.38 L85.74 160.78 L85.80 160.18 L85.86 159.58 L85.91 158.99 L85.97 158.39 L86.03 157.79 L86.09 157.20 L86.15 156.60 L86.21 156.00 L86.26 155.41 L86.32 154.81 L86.38 154.21 L86.44 153.61 L86.49 153.02 L86.55 152.42 L86.61 151.82 L86.66 151.23 L86.72 150.63 L86.78 150.03 L86.83 149.43 L86.89 148.84 L86.94 148.24 L87.00 147.64 L87.05 147.04 L87.11 146.45 L87.16 145.85 L87.22 145.25 L87.27 144.66 L87.32 144.06 L87.38 143.46 L87.43 142.86 L87.48 142.27 L87.54 141.67 L87.59 141.07 L87.64 140.47 L87.69 139.88 L87.74 139.28 L87.79 138.68 L87.85 138.09 L87.90 137.49 L87.95 136.89 L88.00 136.29 L88.05 135.70 L88.10 135.10 L88.15 134.50 L88.20 133.90 L88.24 133.31 L88.29 132.71 L88.34 132.11 L88.39 131.51 L88.44 130.92 L88.49 130.32 L88.54 129.72 L88.58 129.12 L88.63 128.53 L88.68 127.93 L88.73 127.33 L88.77 126.73 L88.82 126.14 L88.87 125.54 L88.92 124.94 L88.96 124.34 L89.01 123.75 L89.06 123.15 L89.11 122.55 L89.15 121.95 L89.20 121.36 L89.25 120.76 L89.30 120.16 L89.34 119.56 L89.39 118.97 L89.44 118.37 L89.49 117.77 L89.53 117.17 L89.58 116.58 L89.63 115.98 L89.68 115.38 L89.73 114.78 L89.78 114.19 L89.83 113.59 L89.87 112.99 L89.92 112.39 L89.97 111.79 L90.02 111.20 L90.07 110.60 L90.12 110.00 L90.17 109.40 L90.22 108.81 L90.28 108.21 L90.33 107.61 L90.38 107.01 L90.43 106.42 L90.48 105.82 L90.54 105.22 L90.59 104.62 L90.64 104.03 L90.70 103.43 L90.75 102.83 L90.81 102.23 L90.86 101.64 L90.92 101.04 L90.97 100.44 L91.03 99.84 L91.08 99.25 L91.14 98.65 L91.20 98.05 L91.26 97.45 L91.32 96.86 L91.38 96.26 L91.44 95.66 L91.50 95.06 L91.56 94.47 L91.62 93.87 L91.68 93.27 L91.74 92.67 L91.81 92.08 L91.87 91.48 L91.93 90.88 L92.00 90.28 L92.06 89.69 L92.13 89.09 L92.20 88.49 L92.27 87.89 L92.33 87.30 L92.40 86.70 L92.47 86.10 L92.54 85.50 L92.62 84.91 L92.69 84.31 L92.76 83.71 L92.83 83.11 L92.91 82.52 L92.98 81.92 L93.06 81.32 L93.14 80.72 L93.21 80.13 L93.29 79.53 L93.37 78.93 L93.45 78.33 L93.53 77.74 L93.62 77.14 L93.70 76.54 L93.78 75.94 L93.87 75.35 L93.95 74.75 L94.04 74.15 L94.13 73.56 L94.22 72.96 L94.30 72.36 L94.39 71.77 L94.48 71.17 L94.57 70.57 L94.66 69.98 L94.75 69.38 L94.84 68.79 L94.93 68.20 L95.02 67.61 L95.11 67.01 L95.20 66.42 L95.29 65.83 L95.38 65.25 L95.46 64.66 L95.55 64.07 L95.63 63.49 L95.72 62.90 L95.80 62.32 L95.88 61.74 L95.96 61.16 L96.04 60.59 L96.11 60.01 L96.19 59.44 L96.26 58.86 L96.34 58.29 L96.41 57.72 L96.49 57.14 L96.57 56.57 L96.65 55.99 L96.73 55.41 L96.82 54.83 L96.91 54.25 L97.01 53.66 L97.11 53.07 L97.22 52.48 L97.33 51.88 L97.46 51.27 L97.59 50.66 L97.73 50.04 L97.88 49.42 L98.04 48.78 L98.21 48.14 L98.39 47.49 L98.58 46.84 L98.79 46.17 L99.00 45.49 L99.24 44.81 L99.48 44.14 L99.74 43.51 L100.00 42.91 L100.27 42.38 L100.56 41.93 L100.84 41.58 L101.14 41.34 L101.44 41.23 L101.74 41.27 L102.04 41.44 L102.34 41.74 L102.64 42.13 L102.94 42.62 L103.23 43.18 L103.52 43.79 L103.79 44.44 L104.05 45.11 L104.30 45.79 L104.54 46.45 L104.76 47.11 L104.97 47.76 L105.17 48.40 L105.35 49.03 L105.52 49.66 L105.68 50.27 L105.84 50.88 L105.98 51.49 L106.11 52.09 L106.24 52.68 L106.35 53.27 L106.47 53.85 L106.57 54.43 L106.67 55.01 L106.76 55.58 L106.85 56.16 L106.94 56.73 L107.03 57.30 L107.11 57.87 L107.19 58.43 L107.27 59.00 L107.34 59.57 L107.42 60.15 L107.50 60.72 L107.58 61.30 L107.67 61.87 L107.75 62.45 L107.83 63.04 L107.92 63.62 L108.00 64.20 L108.09 64.79 L108.18 65.38 L108.27 65.97 L108.36 66.56 L108.45 67.15 L108.54 67.75 L108.63 68.34 L108.72 68.94 L108.81 69.53 L108.90 70.13 L108.99 70.73 L109.09 71.33 L109.18 71.93 L109.27 72.53 L109.37 73.13 L109.46 73.73 L109.55 74.33 L109.65 74.93 L109.74 75.53 L109.84 76.13 L109.93 76.73 L110.02 77.34 L110.12 77.94 L110.21 78.54 L110.30 79.14 L110.39 79.74 L110.48 80.34 L110.58 80.94 L110.67 81.54 L110.76 82.14 L110.85 82.73 L110.94 83.33 L111.02 83.93 L111.11 84.52 L111.20 85.12 L111.29 85.71 L111.37 86.30 L111.46 86.90 L111.54 87.49 L111.63 88.08 L111.71 88.67 L111.79 89.27 L111.88 89.86 L111.96 90.45 L112.04 91.04 L112.12 91.63 L112.20 92.22 L112.28 92.81 L112.36 93.40 L112.44 93.99 L112.51 94.58 L112.59 95.17 L112.67 95.76 L112.74 96.35 L112.82 96.95 L112.89 97.54 L112.96 98.13 L113.04 98.72 L113.11 99.31 L113.18 99.91 L113.25 100.50 L113.32 101.09 L113.39 101.69 L113.46 102.28 L113.53 102.88 L113.60 103.47 L113.67 104.07 L113.74 104.66 L113.81 105.26 L113.87 105.86 L113.94 106.45 L114.01 107.05 L114.07 107.65 L114.14 108.24 L114.20 108.84 L114.27 109.44 L114.33 110.04 L114.40 110.63 L114.46 111.23 L114.53 111.83 L114.59 112.43 L114.66 113.03 L114.72 113.63 L114.79 114.22 L114.85 114.82 L114.92 115.42 L114.98 116.02 L115.05 116.62 L115.11 117.22 L115.18 117.82 L115.24 118.41 L115.31 119.01 L115.38 119.61 L115.44 120.21 L115.51 120.81 L115.58 121.41 L115.64 122.00 L115.71 122.60 L115.78 123.20 L115.85 123.80 L115.92 124.39 L115.99 124.99 L116.06 125.59 L116.13 126.18 L116.20 126.78 L116.27 127.38 L116.34 127.97 L116.41 128.57 L116.49 129.16 L116.56 129.76 L116.64 130.35 L116.71 130.95 L116.79 131.54 L116.86 132.13 L116.94 132.73 L117.02 133.32 L117.10 133.91 L117.17 134.51 L117.25 135.10 L117.33 135.69 L117.41 136.29 L117.49 136.88 L117.57 137.47 L117.66 138.06 L117.74 138.66 L117.82 139.25 L117.90 139.84 L117.99 140.43 L118.07 141.03 L118.16 141.62 L118.24 142.21 L118.33 142.80 L118.41 143.39 L118.50 143.99 L118.59 144.58 L118.67 145.17 L118.76 145.76 L118.85 146.36 L118.94 146.95 L119.03 147.54 L119.12 148.13 L119.21 148.72 L119.30 149.32 L119.39 149.91 L119.48 150.50 L119.57 151.10 L119.66 151.69 L119.76 152.28 L119.85 152.87 L119.94 153.47 L120.04 154.06 L120.13 154.65 L120.23 155.25 L120.32 155.84 L120.42 156.44 L120.51 157.03 L120.61 157.63 L120.70 158.22 L120.80 158.82 L120.90 159.41 L120.99 160.01 L121.09 160.60 L121.19 161.20 L121.29 161.80 L121.39 162.39 L121.49 162.99 L121.59 163.59 L121.69 164.19 L121.79 164.79 L121.89 165.38 L121.99 165.98 L122.09 166.58 L122.19 167.18 L122.29 167.78 L122.39 168.38 L122.49 168.97 L122.59 169.57 L122.69 170.16 L122.78 170.75 L122.88 171.34 L122.98 171.92 L123.07 172.50 L123.16 173.08 L123.25 173.65 L123.34 174.22 L123.43 174.79 L123.51 175.35 L123.59 175.90 L123.68 176.45 L123.76 177.01 L123.85 177.56 L123.94 178.11 L124.04 178.67 L124.14 179.23 L124.25 179.80 L124.37 180.37 L124.51 180.96 L124.65 181.55 L124.81 182.16 L124.99 182.78 L125.18 183.42 L125.39 184.08 L125.62 184.75 L125.86 185.44 L126.13 186.14 L126.42 186.84 L126.73 187.50 L127.05 188.12 L127.38 188.67 L127.72 189.14 L128.07 189.50 L128.42 189.75 L128.78 189.85 L129.15 189.80 L129.51 189.61 L129.87 189.29 L130.23 188.87 L130.58 188.36 L130.92 187.77 L131.26 187.13 L131.58 186.46 L131.88 185.77 L132.17 185.08 L132.44 184.40 L132.69 183.74 L132.93 183.10 L133.14 182.47 L133.35 181.85 L133.54 181.25 L133.72 180.65 L133.88 180.07 L134.04 179.50 L134.18 178.93 L134.32 178.37 L134.45 177.81 L134.57 177.25 L134.69 176.70 L134.80 176.15 L134.92 175.60 L135.02 175.05 L135.13 174.49 L135.24 173.93 L135.34 173.37 L135.45 172.81 L135.55 172.24 L135.66 171.67 L135.76 171.10 L135.86 170.52 L135.97 169.95 L136.07 169.37 L136.17 168.79 L136.27 168.20 L136.37 167.62 L136.47 167.03 L136.58 166.44 L136.68 165.85 L136.78 165.26 L136.88 164.67 L136.98 164.08 L137.08 163.48 L137.18 162.89 L137.28 162.29 L137.38 161.69 L137.48 161.09 L137.58 160.50 L137.68 159.90 L137.78 159.30 L137.88 158.70 L137.98 158.10 L138.08 157.50 L138.18 156.90 L138.28 156.30 L138.39 155.70 L138.49 155.10 L138.59 154.50 L138.69 153.91 L138.80 153.31 L138.90 152.71 L139.01 152.12 L139.11 151.52 L139.22 150.93 L139.32 150.33 L139.43 149.74 L139.54 149.15 L139.64 148.55 L139.75 147.96 L139.86 147.37 L139.96 146.77 L140.07 146.18 L140.18 145.59 L140.28 145.00 L140.39 144.41 L140.50 143.82 L140.60 143.23 L140.71 142.64 L140.82 142.05 L140.92 141.46 L141.03 140.87 L141.13 140.28 L141.24 139.69 L141.34 139.10 L141.45 138.51 L141.55 137.92 L141.65 137.33 L141.76 136.74 L141.86 136.16 L141.96 135.57 L142.06 134.98 L142.16 134.39 L142.26 133.80 L142.36 133.21 L142.46 132.62 L142.56 132.03 L142.66 131.44 L142.75 130.85 L142.85 130.26 L142.95 129.68 L143.04 129.09 L143.13 128.49 L143.22 127.90 L143.32 127.31 L143.41 126.72 L143.50 126.13 L143.58 125.54 L143.67 124.95 L143.76 124.36 L143.84 123.76 L143.93 123.17 L144.01 122.58 L144.09 121.99 L144.17 121.39 L144.25 120.80 L144.33 120.20 L144.41 119.61 L144.48 119.01 L144.56 118.42 L144.64 117.82 L144.71 117.23 L144.79 116.63 L144.86 116.04 L144.93 115.44 L145.01 114.85 L145.08 114.25 L145.15 113.65 L145.23 113.06 L145.30 112.46 L145.37 111.86 L145.45 111.27 L145.52 110.67 L145.59 110.07 L145.66 109.48 L145.74 108.88 L145.81 108.28 L145.89 107.69 L145.96 107.09 L146.04 106.49 L146.11 105.89 L146.19 105.30 L146.26 104.70 L146.34 104.11 L146.42 103.51 L146.50 102.91 L146.58 102.32 L146.66 101.72 L146.74 101.12 L146.82 100.53 L146.91 99.93 L146.99 99.34 L147.08 98.74 L147.17 98.15 L147.26 97.55 L147.35 96.96 L147.44 96.37 L147.53 95.77 L147.63 95.18 L147.73 94.59 L147.82 93.99 L147.92 93.40 L148.03 92.81 L148.13 92.22 L148.24 91.63 L148.34 91.04 L148.45 90.45 L148.56 89.86 L148.68 89.27 L148.79 88.68 L148.91 88.09 L149.03 87.50 L149.15 86.92 L149.27 86.33 L149.40 85.74 L149.52 85.16 L149.65 84.57 L149.78 83.99 L149.92 83.41 L150.05 82.83 L150.19 82.25 L150.33 81.66 L150.47 81.09 L150.61 80.51 L150.76 79.93 L150.91 79.35 L151.06 78.78 L151.21 78.20 L151.37 77.63 L151.52 77.06 L151.68 76.48 L151.85 75.91 L152.01 75.34 L152.18 74.78 L152.35 74.21 L152.53 73.64 L152.71 73.07 L152.92 72.50 L153.14 71.92 L153.38 71.34 L153.65 70.75 L153.95 70.16 L154.28 69.56 L154.63 68.97 L155.02 68.43 L155.42 67.97 L155.84 67.63 L156.27 67.44 L156.70 67.43 L157.13 67.61 L157.55 67.95 L157.96 68.40 L158.35 68.94 L158.72 69.52 L159.05 70.12 L159.35 70.72 L159.62 71.30 L159.86 71.89 L160.07 72.46 L160.27 73.03 L160.46 73.60 L160.63 74.17 L160.79 74.74 L160.95 75.31 L161.11 75.88 L161.27 76.45 L161.43 77.02 L161.59 77.59 L161.74 78.16 L161.89 78.74 L162.04 79.31 L162.19 79.89 L162.34 80.47 L162.49 81.04 L162.64 81.62 L162.78 82.20 L162.92 82.78 L163.07 83.36 L163.21 83.95 L163.35 84.53 L163.49 85.11 L163.63 85.70 L163.76 86.28 L163.90 86.86 L164.03 87.45 L164.17 88.04 L164.30 88.62 L164.43 89.21 L164.56 89.80 L164.69 90.38 L164.82 90.97 L164.95 91.56 L165.07 92.15 L165.20 92.74 L165.32 93.32 L165.45 93.91 L165.57 94.50 L165.69 95.09 L165.82 95.68 L165.94 96.27 L166.06 96.86 L166.18 97.45 L166.29 98.04 L166.41 98.63 L166.53 99.21 L166.65 99.80 L166.76 100.39 L166.88 100.98 L167.00 101.57 L167.11 102.16 L167.23 102.75 L167.34 103.34 L167.46 103.93 L167.57 104.52 L167.68 105.11 L167.80 105.70 L167.91 106.29 L168.03 106.87 L168.14 107.46 L168.25 108.05 L168.37 108.64 L168.48 109.23 L168.60 109.82 L168.71 110.41 L168.82 111.00 L168.94 111.58 L169.05 112.17 L169.17 112.76 L169.28 113.35 L169.40 113.94 L169.52 114.53 L169.63 115.11 L169.75 115.70 L169.87 116.29 L169.99 116.88 L170.11 117.46 L170.22 118.05 L170.34 118.64 L170.47 119.22 L170.59 119.81 L170.71 120.39 L170.83 120.98 L170.96 121.57 L171.08 122.15 L171.21 122.74 L171.33 123.32 L171.46 123.91 L171.58 124.49 L171.71 125.08 L171.84 125.67 L171.96 126.25 L172.09 126.84 L172.22 127.42 L172.35 128.01 L172.48 128.59 L172.61 129.18 L172.74 129.76 L172.87 130.35 L173.00 130.94 L173.13 131.52 L173.26 132.11 L173.39 132.70 L173.52 133.28 L173.65 133.87 L173.79 134.46 L173.92 135.05 L174.05 135.63 L174.18 136.22 L174.31 136.81 L174.44 137.40 L174.58 137.99 L174.71 138.58 L174.84 139.17 L174.97 139.76 L175.10 140.35 L175.23 140.94 L175.36 141.53 L175.50 142.12 L175.63 142.71 L175.76 143.30 L175.90 143.89 L176.03 144.47 L176.17 145.06 L176.31 145.64 L176.46 146.22 L176.60 146.80 L176.75 147.38 L176.90 147.95 L177.06 148.52 L177.22 149.08 L177.38 149.64 L177.55 150.20 L177.72 150.75 L177.90 151.30 L178.09 151.85 L178.29 152.40 L178.49 152.95 L178.72 153.49 L178.95 154.04 L179.20 154.59 L179.47 155.15 L179.76 155.70 L180.07 156.27 L180.40 156.84 L180.75 157.41 L181.13 157.99 L181.53 158.54 L181.95 159.08 L182.38 159.57 L182.83 160.00 L183.29 160.38 L183.77 160.67 L184.25 160.87 L184.74 160.96 L185.24 160.94 L185.74 160.81 L186.23 160.59 L186.73 160.28 L187.21 159.90 L187.68 159.45 L188.14 158.96 L188.57 158.43 L188.99 157.87 L189.38 157.30 L189.74 156.72 L190.07 156.15 L190.37 155.58 L190.65 155.02 L190.91 154.45 L191.15 153.89 L191.37 153.32 L191.58 152.76 L191.77 152.20 L191.95 151.63 L192.13 151.07 L192.29 150.51 L192.46 149.94 L192.62 149.38 L192.79 148.82 L192.95 148.25 L193.11 147.68 L193.28 147.11 L193.44 146.55 L193.60 145.98 L193.76 145.41 L193.92 144.83 L194.08 144.26 L194.23 143.69 L194.39 143.12 L194.55 142.54 L194.70 141.97 L194.86 141.39 L195.01 140.82 L195.17 140.24 L195.32 139.66 L195.47 139.08 L195.62 138.50 L195.77 137.93 L195.92 137.35 L196.07 136.77 L196.22 136.18 L196.37 135.60 L196.52 135.02 L196.66 134.44 L196.81 133.86 L196.95 133.27 L197.10 132.69 L197.24 132.10 L197.38 131.52 L197.52 130.93 L197.67 130.35 L197.81 129.76 L197.95 129.18 L198.08 128.59 L198.22 128.00 L198.36 127.42 L198.50 126.83 L198.63 126.24 L198.77 125.66 L198.90 125.07 L199.04 124.48 L199.17 123.89 L199.30 123.30 L199.43 122.71 L199.56 122.13 L199.69 121.54 L199.82 120.95 L199.95 120.36 L200.08 119.77 L200.20 119.18 L200.33 118.59 L200.45 118.00 L200.58 117.41 L200.70 116.83 L200.82 116.24 L200.94 115.65 L201.06 115.06 L201.18 114.47 L201.30 113.88 L201.42 113.29 L201.54 112.71 L201.66 112.12 L201.78 111.53 L201.90 110.94 L202.02 110.36 L202.15 109.77 L202.28 109.19 L202.41 108.60 L202.54 108.02 L202.67 107.44 L202.81 106.86 L202.95 106.28 L203.10 105.70 L203.25 105.12 L203.40 104.55 L203.56 103.98 L203.73 103.40 L203.90 102.83 L204.07 102.26 L204.26 101.70 L204.44 101.13 L204.64 100.57 L204.84 100.01 L205.06 99.45 L205.27 98.89 L205.50 98.34 L205.74 97.78 L205.98 97.23 L206.23 96.69 L206.50 96.14 L206.77 95.60 L207.05 95.06 L207.35 94.52 L207.65 93.99 L207.97 93.46 L208.29 92.93 L208.63 92.40 L208.98 91.88 L209.34 91.37 L209.72 90.85 L210.11 90.34 L210.51 89.86 L210.93 89.43 L211.37 89.06 L211.83 88.78 L212.31 88.60 L212.81 88.54 L213.33 88.62 L213.86 88.81 L214.40 89.11 L214.93 89.48 L215.45 89.91 L215.95 90.38 L216.42 90.88 L216.85 91.38 L217.25 91.89 L217.61 92.41 L217.95 92.92 L218.26 93.44 L218.55 93.96 L218.82 94.49 L219.08 95.01 L219.33 95.54 L219.57 96.08 L219.81 96.61 L220.05 97.15 L220.28 97.69 L220.51 98.24 L220.74 98.78 L220.97 99.33 L221.19 99.88 L221.42 100.43 L221.63 100.99 L221.85 101.55 L222.06 102.10 L222.27 102.67 L222.48 103.23 L222.68 103.79 L222.88 104.36 L223.08 104.93 L223.27 105.50 L223.46 106.07 L223.64 106.64 L223.83 107.21 L224.01 107.79 L224.18 108.36 L224.36 108.94 L224.53 109.52 L224.70 110.10 L224.87 110.68 L225.03 111.26 L225.19 111.84 L225.35 112.42 L225.51 113.01 L225.66 113.59 L225.82 114.17 L225.97 114.76 L226.12 115.34 L226.27 115.93 L226.42 116.51 L226.57 117.10 L226.72 117.68 L226.86 118.27 L227.01 118.85 L227.16 119.44 L227.30 120.02 L227.45 120.61 L227.59 121.19 L227.74 121.78 L227.88 122.36 L228.03 122.94 L228.17 123.53 L228.32 124.11 L228.47 124.69 L228.62 125.27 L228.76 125.85 L228.92 126.43 L229.07 127.01 L229.22 127.58 L229.38 128.16 L229.53 128.73 L229.69 129.31 L229.85 129.88 L230.01 130.45 L230.18 131.02 L230.35 131.58 L230.51 132.15 L230.69 132.71 L230.86 133.28 L231.04 133.84 L231.22 134.40 L231.40 134.95 L231.59 135.51 L231.78 136.06 L231.98 136.61 L232.19 137.17 L232.41 137.72 L232.64 138.27 L232.88 138.83 L233.13 139.38 L233.40 139.94 L233.69 140.51 L234.00 141.07 L234.33 141.64 L234.68 142.22 L235.05 142.79 L235.44 143.36 L235.85 143.90 L236.28 144.42 L236.72 144.89 L237.18 145.30 L237.65 145.65 L238.12 145.91 L238.60 146.09 L239.09 146.17 L239.57 146.14 L240.06 146.00 L240.55 145.77 L241.03 145.46 L241.50 145.08 L241.97 144.64 L242.42 144.15 L242.86 143.62 L243.28 143.07 L243.68 142.50 L244.07 141.93 L244.43 141.37 L244.77 140.82 L245.09 140.27 L245.39 139.72 L245.67 139.18 L245.94 138.64 L246.20 138.10 L246.44 137.57 L246.68 137.03 L246.90 136.50 L247.12 135.96 L247.33 135.42 L247.54 134.88 L247.74 134.34 L247.95 133.79 L248.14 133.24 L248.34 132.69 L248.53 132.13 L248.72 131.57 L248.91 131.01 L249.10 130.45 L249.28 129.88 L249.47 129.31 L249.65 128.74 L249.82 128.17 L250.00 127.59 L250.17 127.02 L250.35 126.44 L250.52 125.86 L250.69 125.28 L250.86 124.70 L251.03 124.12 L251.20 123.54 L251.36 122.95 L251.53 122.37 L251.69 121.79 L251.86 121.20 L252.02 120.62 L252.18 120.03 L252.35 119.45 L252.51 118.87 L252.67 118.28 L252.84 117.70 L253.00 117.12 L253.16 116.54 L253.33 115.96 L253.49 115.38 L253.66 114.81 L253.82 114.23 L253.99 113.66 L254.16 113.08 L254.32 112.51 L254.49 111.95 L254.66 111.38 L254.84 110.82 L255.01 110.26 L255.18 109.70 L255.36 109.14 L255.54 108.59 L255.73 108.04 L255.93 107.49 L256.13 106.93 L256.35 106.38 L256.58 105.83 L256.83 105.27 L257.10 104.72 L257.38 104.16 L257.69 103.60 L258.02 103.03 L258.38 102.46 L258.75 101.90 L259.15 101.35 L259.57 100.83 L260.01 100.34 L260.46 99.90 L260.92 99.51 L261.40 99.19 L261.88 98.94 L262.38 98.78 L262.88 98.71 L263.38 98.74 L263.88 98.86 L264.38 99.06 L264.88 99.33 L265.37 99.67 L265.86 100.06 L266.34 100.50 L266.81 100.98 L267.27 101.48 L267.72 102.01 L268.14 102.55 L268.56 103.10 L268.95 103.64 L269.32 104.18 L269.68 104.71 L270.02 105.25 L270.35 105.78 L270.67 106.32 L270.97 106.85 L271.26 107.38 L271.55 107.91 L271.82 108.44 L272.09 108.97 L272.35 109.49 L272.61 110.02 L272.87 110.55 L273.12 111.08 L273.36 111.60 L273.61 112.13 L273.85 112.66 L274.09 113.19 L274.33 113.72 L274.56 114.25 L274.80 114.78 L275.03 115.31 L275.26 115.85 L275.49 116.38 L275.71 116.92 L275.94 117.45 L276.16 117.99 L276.39 118.53 L276.61 119.07 L276.84 119.61 L277.06 120.15 L277.28 120.70 L277.51 121.24 L277.73 121.79 L277.96 122.34 L278.18 122.90 L278.41 123.45 L278.64 124.01 L278.87 124.57 L279.10 125.13 L279.33 125.69 L279.57 126.26 L279.80 126.83 L280.04 127.40 L280.28 127.97 L280.53 128.55 L280.77 129.13 L281.02 129.72 L281.28 130.30 L281.53 130.89 L281.79 131.49 L282.06 132.08 L282.32 132.68 L282.60 133.29 L282.87 133.89 L283.16 134.50 L283.45 135.08 L283.76 135.65 L284.08 136.18 L284.43 136.67 L284.79 137.11 L285.18 137.50 L285.60 137.82 L286.05 138.06 L286.54 138.22 L287.06 138.29 L287.61 138.26 L288.19 138.14 L288.76 137.94 L289.32 137.66 L289.84 137.32 L290.31 136.93 L290.74 136.49 L291.13 136.00 L291.50 135.49 L291.84 134.96 L292.16 134.42 L292.46 133.88 L292.76 133.34 L293.04 132.81 L293.33 132.28 L293.60 131.76 L293.87 131.23 L294.14 130.71 L294.40 130.19 L294.66 129.66 L294.92 129.13 L295.18 128.60 L295.44 128.07 L295.70 127.53 L295.96 126.99 L296.22 126.44 L296.48 125.90 L296.74 125.35 L297.00 124.80 L297.26 124.24 L297.52 123.69 L297.77 123.14 L298.03 122.58 L298.28 122.03 L298.53 121.48 L298.78 120.93 L299.02 120.38 L299.27 119.83 L299.51 119.28 L299.75 118.74 L299.98 118.19 L300.22 117.66 L300.44 117.12 L300.67 116.59 L300.90 116.06 L301.13 115.53 L301.37 115.01 L301.62 114.48 L301.88 113.96 L302.16 113.43 L302.46 112.91 L302.79 112.38 L303.15 111.85 L303.53 111.31 L303.94 110.79 L304.38 110.28 L304.83 109.80 L305.30 109.35 L305.79 108.94 L306.28 108.58 L306.78 108.27 L307.29 108.02 L307.80 107.85 L308.31 107.75 L308.81 107.74 L309.31 107.82 L309.80 107.97 L310.29 108.20 L310.76 108.49 L311.23 108.83 L311.69 109.22 L312.13 109.66 L312.57 110.13 L312.99 110.62 L313.40 111.13 L313.79 111.65 L314.17 112.18 L314.53 112.70 L314.88 113.23 L315.22 113.76 L315.55 114.29 L315.86 114.82 L316.16 115.35 L316.46 115.88 L316.74 116.41 L317.01 116.95 L317.28 117.48 L317.54 118.01 L317.80 118.55 L318.05 119.08 L318.29 119.62 L318.53 120.15 L318.77 120.68 L319.00 121.21 L319.23 121.75 L319.47 122.28 L319.70 122.81 L319.93 123.34 L320.17 123.86 L320.40 124.39 L320.65 124.92 L320.89 125.45 L321.14 125.97 L321.40 126.50 L321.67 127.03 L321.95 127.55 L322.23 128.08 L322.53 128.61 L322.84 129.14 L323.16 129.66 L323.49 130.19 L323.84 130.72 L324.20 131.25 L324.59 131.78 L324.98 132.32 L325.40 132.84 L325.83 133.35 L326.27 133.84 L326.73 134.29 L327.19 134.71 L327.66 135.08 L328.15 135.39 L328.63 135.64 L329.12 135.81 L329.62 135.91 L330.11 135.91 L330.61 135.82 L331.10 135.65 L331.59 135.40 L332.08 135.09 L332.55 134.72 L333.02 134.30 L333.47 133.85 L333.92 133.38 L334.34 132.88 L334.76 132.38 L335.15 131.88 L335.52 131.37 L335.88 130.87 L336.23 130.37 L336.56 129.86 L336.88 129.36 L337.18 128.85 L337.48 128.34 L337.76 127.83 L338.04 127.32 L338.31 126.81 L338.57 126.30 L338.83 125.78 L339.09 125.26 L339.34 124.74 L339.58 124.21 L339.83 123.68 L340.08 123.14 L340.33 122.61 L340.57 122.06 L340.83 121.52 L341.08 120.97 L341.35 120.41 L341.61 119.85 L341.89 119.28 L342.17 118.71 L342.47 118.14 L342.77 117.58 L343.09 117.02 L343.43 116.48 L343.77 115.96 L344.14 115.45 L344.52 114.98 L344.93 114.53 L345.35 114.12 L345.80 113.75 L346.28 113.41 L346.78 113.13 L347.30 112.90 L347.84 112.72 L348.40 112.59 L348.97 112.53 L349.53 112.52 L350.09 112.57 L350.63 112.68 L351.16 112.86 L351.66 113.10 L352.13 113.41 L352.58 113.77 L353.00 114.18 L353.41 114.64 L353.79 115.13 L354.16 115.65 L354.52 116.19 L354.86 116.75 L355.20 117.31 L355.53 117.88 L355.85 118.44 L356.18 119.00 L356.50 119.53 L356.83 120.04 L357.16 120.54 L357.48 121.03 L357.80 121.51 L358.11 121.99 L358.42 122.47 L358.72 122.96 L359.00 123.45 L359.28 123.96 L359.55 124.47 L359.81 124.99 L360.08 125.51 L360.34 126.04 L360.60 126.57 L360.88 127.11 L361.16 127.64 L361.45 128.17 L361.75 128.69 L362.08 129.21 L362.42 129.73 L362.78 130.23 L363.17 130.73 L363.59 131.21 L364.03 131.68 L364.50 132.13 L364.99 132.55 L365.50 132.93 L366.02 133.28 L366.55 133.57 L367.08 133.81 L367.61 133.99 L368.14 134.10 L368.66 134.14 L369.17 134.09 L369.67 133.97 L370.16 133.77 L370.63 133.52 L371.09 133.21 L371.54 132.84 L371.98 132.43 L372.41 131.98 L372.82 131.50 L373.22 130.99 L373.61 130.46 L373.99 129.91 L374.36 129.36 L374.71 128.80 L375.06 128.24 L375.39 127.69 L375.70 127.16 L376.01 126.63 L376.31 126.12 L376.60 125.62 L376.88 125.12 L377.16 124.62 L377.44 124.13 L377.71 123.65 L377.98 123.16 L378.25 122.66 L378.52 122.17 L378.79 121.67 L379.07 121.16 L379.35 120.64 L379.64 120.11 L379.94 119.57 L380.24 119.03 L380.56 118.47 L380.89 117.93 L381.24 117.39 L381.60 116.86 L381.98 116.36 L382.38 115.88 L382.80 115.44 L383.25 115.03 L383.72 114.66 L384.21 114.35 L384.74 114.09 L385.29 113.89 L385.85 113.75 L386.43 113.67 L387.00 113.67 L387.56 113.75 L388.10 113.90 L388.62 114.13 L389.11 114.45 L389.57 114.84 L390.00 115.28 L390.41 115.76 L390.81 116.26 L391.19 116.76 L391.56 117.27 L391.92 117.78 L392.27 118.29 L392.61 118.80 L392.94 119.31 L393.26 119.82 L393.57 120.34 L393.88 120.85 L394.18 121.36 L394.48 121.87 L394.77 122.39 L395.06 122.90 L395.35 123.41 L395.63 123.91 L395.92 124.42 L396.20 124.93 L396.49 125.43 L396.79 125.94 L397.09 126.44 L397.40 126.95 L397.71 127.45 L398.04 127.96 L398.38 128.46 L398.74 128.96 L399.11 129.47 L399.49 129.98 L399.90 130.48 L400.32 130.98 L400.77 131.45 L401.23 131.89 L401.71 132.27 L402.21 132.59 L402.72 132.83 L403.26 132.97 L403.81 133.00 L404.37 132.90 L404.95 132.71 L405.51 132.43 L406.06 132.11 L406.58 131.77 L407.07 131.41 L407.53 131.04 L407.97 130.65 L408.38 130.24 L408.78 129.82 L409.15 129.38 L409.51 128.93 L409.85 128.47 L410.19 128.00 L410.50 127.52 L410.82 127.03 L411.12 126.53 L411.42 126.02 L411.71 125.51 L412.01 124.98 L412.30 124.46 L412.60 123.92 L412.90 123.39 L413.21 122.85 L413.53 122.30 L413.86 121.76 L414.20 121.22 L414.56 120.67 L414.93 120.13 L415.32 119.61 L415.72 119.10 L416.13 118.61 L416.56 118.15 L417.00 117.73 L417.45 117.34 L417.92 117.00 L418.40 116.72 L418.89 116.49 L419.39 116.32 L419.90 116.23 L420.43 116.20 L420.96 116.26 L421.51 116.39 L422.05 116.59 L422.59 116.84 L423.11 117.15 L423.63 117.50 L424.12 117.89 L424.58 118.31 L425.02 118.75 L425.43 119.21 L425.80 119.69 L426.16 120.18 L426.50 120.69 L426.82 121.21 L427.12 121.73 L427.42 122.26 L427.71 122.79 L428.00 123.32 L428.29 123.84 L428.58 124.37 L428.88 124.88 L429.19 125.39 L429.50 125.89 L429.82 126.39 L430.16 126.88 L430.50 127.36 L430.84 127.84 L431.20 128.33 L431.57 128.80 L431.94 129.28 L432.32 129.76 L432.71 130.24 L433.11 130.72 L433.51 131.20 L433.94 131.65 L434.40 132.05 L434.88 132.38 L435.41 132.63 L435.97 132.80 L436.54 132.88 L437.13 132.88 L437.72 132.81 L438.30 132.66 L438.85 132.45 L439.37 132.17 L439.86 131.84 L440.32 131.45 L440.75 131.03 L441.16 130.56 L441.54 130.08 L441.91 129.57 L442.26 129.05 L442.61 128.53 L442.94 128.01 L443.27 127.50 L443.60 127.00 L443.93 126.51 L444.25 126.03 L444.57 125.55 L444.89 125.07 L445.21 124.59 L445.53 124.11 L445.86 123.63 L446.18 123.14 L446.51 122.64 L446.84 122.13 L447.18 121.60 L447.52 121.07 L447.87 120.54 L448.24 120.01 L448.61 119.50 L449.01 119.01 L449.42 118.56 L449.86 118.15 L450.33 117.79 L450.82 117.49 L451.35 117.26 L451.90 117.10 L452.47 117.01 L453.05 116.99 L453.63 117.04 L454.20 117.15 L454.75 117.34 L455.27 117.59 L455.76 117.90 L456.23 118.26 L456.67 118.67 L457.10 119.11 L457.50 119.59 L457.88 120.09 L458.24 120.61 L458.59 121.14 L458.93 121.66 L459.26 122.19 L459.58 122.71 L459.90 123.22 L460.21 123.73 L460.51 124.24 L460.82 124.74 L461.13 125.24 L461.44 125.73 L461.76 126.22 L462.09 126.71 L462.42 127.19 L462.77 127.66 L463.12 128.14 L463.50 128.60 L463.89 129.07 L464.30 129.53 L464.73 129.98 L465.18 130.43 L465.65 130.85 L466.14 131.24 L466.64 131.58 L467.16 131.86 L467.69 132.06 L468.23 132.17 L468.77 132.17 L469.32 132.06 L469.86 131.87 L470.40 131.59 L470.92 131.25 L471.43 130.86 L471.91 130.43 L472.36 129.98 L472.78 129.52 L473.18 129.04 L473.55 128.55 L473.90 128.06 L474.23 127.56 L474.55 127.07 L474.86 126.57 L475.17 126.07 L475.48 125.58 L475.79 125.09 L476.11 124.62 L476.44 124.15 L476.77 123.68 L477.12 123.20 L477.46 122.72 L477.82 122.22 L478.17 121.69 L478.53 121.16 L478.90 120.62 L479.29 120.10 L479.68 119.60 L480.10 119.13 L480.54 118.71 L481.01 118.35 L481.50 118.06 L482.03 117.85 L482.58 117.73 L483.15 117.68 L483.73 117.71 L484.31 117.80 L484.88 117.96 L485.42 118.17 L485.94 118.43 L486.43 118.73 L486.90 119.08 L487.35 119.47 L487.77 119.89 L488.17 120.34 L488.56 120.82 L488.93 121.31 L489.29 121.82 L489.64 122.35 L489.97 122.88 L490.30 123.41 L490.63 123.95 L490.95 124.48 L491.27 125.00 L491.59 125.50 L491.91 126.00 L492.23 126.48 L492.57 126.96 L492.91 127.43 L493.26 127.88 L493.62 128.34 L494.00 128.79 L494.40 129.23 L494.82 129.67 L495.25 130.11 L495.71 130.54 L496.19 130.96 L496.69 131.33 L497.21 131.66 L497.73 131.92 L498.27 132.10 L498.82 132.18 L499.38 132.16 L499.94 132.02 L500.49 131.80 L501.03 131.50 L501.55 131.14 L502.04 130.73 L502.49 130.28 L502.91 129.82 L503.29 129.34 L503.65 128.86 L503.99 128.37 L504.33 127.89 L504.66 127.40 L504.99 126.92 L505.32 126.44 L505.66 125.96 L505.99 125.48 L506.32 124.99 L506.66 124.50 L507.00 124.01 L507.35 123.51 L507.70 123.00 L508.05 122.49 L508.42 121.98 L508.80 121.48 L509.20 121.01 L509.62 120.56 L510.07 120.16 L510.54 119.82 L511.05 119.53 L511.59 119.31 L512.16 119.17 L512.74 119.10 L513.33 119.12 L513.90 119.22 L514.46 119.42 L514.98 119.70 L515.47 120.06 L515.93 120.47 L516.37 120.91 L516.80 121.35 L517.20 121.81 L517.59 122.27 L517.97 122.74 L518.33 123.22 L518.69 123.70 L519.04 124.18 L519.38 124.67 L519.72 125.16 L520.05 125.66 L520.39 126.15 L520.73 126.64 L521.07 127.13 L521.42 127.62 L521.79 128.09 L522.17 128.56 L522.56 129.02 L522.98 129.46 L523.42 129.89 L523.89 130.29 L524.38 130.67 L524.89 130.99 L525.42 131.25 L525.97 131.44 L526.54 131.54 L527.11 131.55 L527.70 131.45 L528.27 131.26 L528.81 131.01 L529.33 130.71 L529.81 130.35 L530.27 129.95 L530.71 129.52 L531.13 129.07 L531.53 128.60 L531.92 128.12 L532.29 127.64 L532.66 127.16 L533.03 126.69 L533.39 126.22 L533.74 125.75 L534.10 125.28 L534.46 124.81 L534.82 124.35 L535.18 123.88 L535.55 123.40 L535.93 122.93 L536.32 122.46 L536.72 122.00 L537.14 121.55 L537.58 121.13 L538.03 120.74 L538.51 120.39 L539.02 120.09 L539.55 119.84 L540.12 119.65 L540.71 119.52 L541.00 119.49" stroke="#A2142F" stroke-width="2.6"/>
<path class="curve" d="M56.85 341.32 L57.04 340.75 L57.23 340.18 L57.42 339.61 L57.61 339.04 L57.79 338.47 L57.97 337.89 L58.15 337.32 L58.33 336.74 L58.50 336.17 L58.68 335.59 L58.85 335.02 L59.01 334.44 L59.18 333.86 L59.34 333.29 L59.50 332.71 L59.66 332.13 L59.82 331.55 L59.97 330.97 L60.12 330.39 L60.27 329.81 L60.42 329.23 L60.56 328.65 L60.71 328.07 L60.85 327.49 L60.99 326.90 L61.13 326.32 L61.26 325.74 L61.40 325.15 L61.53 324.57 L61.66 323.99 L61.79 323.40 L61.91 322.82 L62.04 322.23 L62.16 321.64 L62.28 321.06 L62.40 320.47 L62.52 319.88 L62.63 319.30 L62.75 318.71 L62.86 318.12 L62.97 317.53 L63.08 316.94 L63.19 316.35 L63.29 315.76 L63.40 315.18 L63.50 314.59 L63.60 313.99 L63.70 313.40 L63.80 312.81 L63.90 312.22 L64.00 311.63 L64.09 311.04 L64.18 310.45 L64.28 309.86 L64.37 309.26 L64.46 308.67 L64.55 308.08 L64.63 307.48 L64.72 306.89 L64.80 306.30 L64.89 305.70 L64.97 305.11 L65.05 304.51 L65.13 303.92 L65.21 303.33 L65.29 302.73 L65.37 302.14 L65.45 301.54 L65.52 300.95 L65.60 300.35 L65.67 299.75 L65.74 299.16 L65.82 298.56 L65.89 297.97 L65.96 297.37 L66.03 296.77 L66.10 296.18 L66.17 295.58 L66.23 294.98 L66.30 294.39 L66.37 293.79 L66.43 293.19 L66.50 292.60 L66.56 292.00 L66.63 291.40 L66.69 290.80 L66.76 290.21 L66.82 289.61 L66.88 289.01 L66.94 288.41 L67.00 287.82 L67.07 287.22 L67.13 286.62 L67.19 286.02 L67.25 285.43 L67.31 284.83 L67.37 284.23 L67.43 283.63 L67.49 283.03 L67.55 282.44 L67.60 281.84 L67.66 281.24 L67.72 280.64 L67.78 280.05 L67.84 279.45 L67.90 278.85 L67.95 278.25 L68.01 277.65 L68.07 277.06 L68.13 276.46 L68.18 275.86 L68.24 275.26 L68.30 274.67 L68.35 274.07 L68.41 273.47 L68.46 272.87 L68.52 272.27 L68.58 271.68 L68.63 271.08 L68.69 270.48 L68.74 269.88 L68.80 269.29 L68.85 268.69 L68.91 268.09 L68.96 267.49 L69.02 266.89 L69.07 266.30 L69.13 265.70 L69.18 265.10 L69.24 264.50 L69.29 263.91 L69.34 263.31 L69.40 262.71 L69.45 262.11 L69.50 261.51 L69.56 260.92 L69.61 260.32 L69.67 259.72 L69.72 259.12 L69.77 258.53 L69.82 257.93 L69.88 257.33 L69.93 256.73 L69.98 256.14 L70.04 255.54 L70.09 254.94 L70.14 254.34 L70.19 253.74 L70.25 253.15 L70.30 252.55 L70.35 251.95 L70.40 251.35 L70.46 250.76 L70.51 250.16 L70.56 249.56 L70.61 248.96 L70.66 248.37 L70.72 247.77 L70.77 247.17 L70.82 246.57 L70.87 245.97 L70.92 245.38 L70.98 244.78 L71.03 244.18 L71.08 243.58 L71.13 242.99 L71.18 242.39 L71.24 241.79 L71.29 241.19 L71.34 240.60 L71.39 240.00 L71.44 239.40 L71.49 238.80 L71.55 238.21 L71.60 237.61 L71.65 237.01 L71.70 236.41 L71.75 235.82 L71.81 235.22 L71.86 234.62 L71.91 234.02 L71.96 233.43 L72.01 232.83 L72.07 232.23 L72.12 231.63 L72.17 231.03 L72.22 230.44 L72.27 229.84 L72.33 229.24 L72.38 228.64 L72.43 228.05 L72.48 227.45 L72.54 226.85 L72.59 226.25 L72.64 225.66 L72.69 225.06 L72.75 224.46 L72.80 223.87 L72.85 223.27 L72.90 222.67 L72.96 222.07 L73.01 221.48 L73.06 220.88 L73.12 220.28 L73.17 219.68 L73.22 219.09 L73.28 218.49 L73.33 217.89 L73.38 217.29 L73.44 216.70 L73.49 216.10 L73.54 215.50 L73.60 214.90 L73.65 214.31 L73.70 213.71 L73.76 213.11 L73.81 212.51 L73.86 211.92 L73.92 211.32 L73.97 210.72 L74.03 210.12 L74.08 209.53 L74.13 208.93 L74.19 208.33 L74.24 207.74 L74.30 207.14 L74.35 206.54 L74.40 205.94 L74.46 205.35 L74.51 204.75 L74.57 204.15 L74.62 203.55 L74.68 202.96 L74.73 202.36 L74.79 201.76 L74.84 201.17 L74.90 200.57 L74.95 199.97 L75.01 199.37 L75.06 198.78 L75.12 198.18 L75.17 197.58 L75.23 196.98 L75.28 196.39 L75.34 195.79 L75.39 195.19 L75.45 194.60 L75.50 194.00 L75.56 193.40 L75.61 192.80 L75.67 192.21 L75.72 191.61 L75.78 191.01 L75.84 190.41 L75.89 189.82 L75.95 189.22 L76.00 188.62 L76.06 188.03 L76.12 187.43 L76.17 186.83 L76.23 186.23 L76.28 185.64 L76.34 185.04 L76.40 184.44 L76.45 183.84 L76.51 183.25 L76.56 182.65 L76.62 182.05 L76.68 181.46 L76.73 180.86 L76.79 180.26 L76.85 179.66 L76.90 179.07 L76.96 178.47 L77.02 177.87 L77.07 177.28 L77.13 176.68 L77.19 176.08 L77.25 175.48 L77.30 174.89 L77.36 174.29 L77.42 173.69 L77.47 173.09 L77.53 172.50 L77.59 171.90 L77.65 171.30 L77.70 170.71 L77.76 170.11 L77.82 169.51 L77.88 168.91 L77.93 168.32 L77.99 167.72 L78.05 167.12 L78.11 166.53 L78.16 165.93 L78.22 165.33 L78.28 164.73 L78.34 164.14 L78.40 163.54 L78.45 162.94 L78.51 162.34 L78.57 161.75 L78.63 161.15 L78.69 160.55 L78.75 159.96 L78.80 159.36 L78.86 158.76 L78.92 158.16 L78.98 157.57 L79.04 156.97 L79.10 156.37 L79.16 155.78 L79.21 155.18 L79.27 154.58 L79.33 153.98 L79.39 153.39 L79.45 152.79 L79.51 152.19 L79.57 151.59 L79.63 151.00 L79.69 150.40 L79.75 149.80 L79.80 149.21 L79.86 148.61 L79.92 148.01 L79.98 147.41 L80.04 146.82 L80.10 146.22 L80.16 145.62 L80.22 145.02 L80.28 144.43 L80.34 143.83 L80.40 143.23 L80.46 142.64 L80.52 142.04 L80.58 141.44 L80.64 140.84 L80.70 140.25 L80.76 139.65 L80.82 139.05 L80.88 138.45 L80.94 137.86 L81.00 137.26 L81.06 136.66 L81.12 136.07 L81.18 135.47 L81.24 134.87 L81.30 134.27 L81.36 133.68 L81.42 133.08 L81.48 132.48 L81.55 131.88 L81.61 131.29 L81.67 130.69 L81.73 130.09 L81.79 129.49 L81.85 128.90 L81.91 128.30 L81.97 127.70 L82.03 127.10 L82.09 126.51 L82.16 125.91 L82.22 125.31 L82.28 124.71 L82.34 124.12 L82.40 123.52 L82.46 122.92 L82.52 122.33 L82.59 121.73 L82.65 121.13 L82.71 120.53 L82.77 119.94 L82.83 119.34 L82.90 118.74 L82.96 118.14 L83.02 117.55 L83.09 116.95 L83.15 116.35 L83.21 115.76 L83.28 115.16 L83.34 114.56 L83.40 113.96 L83.47 113.37 L83.53 112.77 L83.60 112.17 L83.66 111.58 L83.73 110.98 L83.80 110.38 L83.86 109.79 L83.93 109.19 L83.99 108.59 L84.06 108.00 L84.13 107.40 L84.20 106.80 L84.26 106.21 L84.33 105.61 L84.40 105.02 L84.47 104.42 L84.54 103.82 L84.61 103.23 L84.68 102.63 L84.75 102.04 L84.82 101.44 L84.89 100.84 L84.96 100.25 L85.04 99.65 L85.11 99.06 L85.18 98.46 L85.26 97.87 L85.33 97.27 L85.41 96.68 L85.48 96.08 L85.56 95.49 L85.63 94.89 L85.71 94.30 L85.79 93.70 L85.86 93.11 L85.94 92.52 L86.02 91.92 L86.10 91.33 L86.18 90.73 L86.26 90.14 L86.34 89.55 L86.43 88.95 L86.51 88.36 L86.59 87.77 L86.67 87.17 L86.76 86.58 L86.84 85.99 L86.93 85.39 L87.01 84.80 L87.10 84.21 L87.19 83.62 L87.28 83.03 L87.37 82.43 L87.46 81.84 L87.55 81.25 L87.64 80.66 L87.73 80.07 L87.82 79.48 L87.92 78.89 L88.01 78.29 L88.10 77.70 L88.20 77.11 L88.30 76.52 L88.39 75.93 L88.49 75.34 L88.59 74.75 L88.69 74.16 L88.79 73.57 L88.89 72.99 L88.99 72.40 L89.10 71.81 L89.20 71.22 L89.31 70.63 L89.42 70.04 L89.53 69.45 L89.64 68.87 L89.75 68.28 L89.86 67.69 L89.98 67.10 L90.10 66.52 L90.22 65.93 L90.34 65.34 L90.46 64.75 L90.59 64.17 L90.72 63.58 L90.85 63.00 L90.98 62.41 L91.12 61.82 L91.25 61.24 L91.39 60.65 L91.54 60.07 L91.68 59.48 L91.83 58.90 L91.99 58.31 L92.14 57.73 L92.30 57.14 L92.46 56.56 L92.62 55.97 L92.79 55.39 L92.96 54.81 L93.14 54.22 L93.32 53.64 L93.50 53.06 L93.69 52.47 L93.87 51.89 L94.07 51.31 L94.27 50.73 L94.47 50.14 L94.68 49.57 L94.90 48.99 L95.14 48.43 L95.40 47.88 L95.68 47.34 L95.98 46.81 L96.31 46.31 L96.68 45.82 L97.08 45.36 L97.51 44.93 L97.97 44.54 L98.45 44.20 L98.94 43.92 L99.46 43.70 L99.98 43.55 L100.52 43.47 L101.05 43.49 L101.59 43.58 L102.12 43.75 L102.64 43.98 L103.14 44.27 L103.63 44.62 L104.10 45.02 L104.55 45.45 L104.96 45.92 L105.34 46.42 L105.69 46.94 L106.02 47.48 L106.32 48.04 L106.60 48.61 L106.87 49.19 L107.12 49.78 L107.37 50.37 L107.61 50.95 L107.84 51.53 L108.08 52.11 L108.31 52.67 L108.54 53.24 L108.76 53.80 L108.99 54.35 L109.21 54.91 L109.43 55.45 L109.65 56.00 L109.86 56.55 L110.08 57.09 L110.29 57.64 L110.50 58.18 L110.71 58.73 L110.91 59.27 L111.12 59.82 L111.32 60.37 L111.52 60.93 L111.72 61.48 L111.92 62.04 L112.11 62.60 L112.31 63.17 L112.50 63.73 L112.69 64.30 L112.89 64.87 L113.08 65.44 L113.27 66.01 L113.46 66.58 L113.65 67.15 L113.84 67.73 L114.03 68.30 L114.22 68.87 L114.41 69.45 L114.60 70.02 L114.79 70.60 L114.98 71.17 L115.17 71.74 L115.36 72.31 L115.56 72.88 L115.75 73.45 L115.95 74.02 L116.14 74.59 L116.34 75.16 L116.54 75.72 L116.74 76.29 L116.94 76.85 L117.15 77.41 L117.35 77.98 L117.56 78.54 L117.77 79.10 L117.97 79.66 L118.19 80.22 L118.40 80.77 L118.61 81.33 L118.83 81.88 L119.05 82.44 L119.27 82.99 L119.49 83.55 L119.71 84.10 L119.94 84.65 L120.17 85.20 L120.40 85.75 L120.63 86.30 L120.87 86.84 L121.11 87.39 L121.35 87.93 L121.59 88.48 L121.84 89.02 L122.09 89.57 L122.34 90.11 L122.59 90.65 L122.85 91.19 L123.11 91.73 L123.37 92.27 L123.64 92.81 L123.91 93.34 L124.18 93.88 L124.46 94.42 L124.74 94.95 L125.02 95.48 L125.31 96.02 L125.60 96.55 L125.89 97.08 L126.19 97.61 L126.49 98.14 L126.79 98.67 L127.10 99.20 L127.41 99.73 L127.73 100.25 L128.05 100.78 L128.37 101.30 L128.70 101.83 L129.03 102.35 L129.37 102.86 L129.72 103.37 L130.07 103.86 L130.44 104.35 L130.81 104.82 L131.19 105.28 L131.58 105.72 L131.99 106.14 L132.40 106.55 L132.83 106.93 L133.27 107.28 L133.73 107.62 L134.20 107.92 L134.69 108.19 L135.19 108.44 L135.71 108.65 L136.25 108.82 L136.81 108.96 L137.39 109.06 L137.99 109.12 L138.60 109.13 L139.23 109.11 L139.87 109.06 L140.52 108.96 L141.16 108.83 L141.81 108.67 L142.44 108.47 L143.07 108.24 L143.68 107.99 L144.26 107.70 L144.83 107.39 L145.36 107.05 L145.87 106.69 L146.35 106.31 L146.81 105.92 L147.25 105.51 L147.67 105.09 L148.09 104.66 L148.49 104.23 L148.89 103.80 L149.29 103.37 L149.70 102.94 L150.10 102.53 L150.52 102.13 L150.95 101.74 L151.38 101.36 L151.83 100.98 L152.28 100.62 L152.74 100.26 L153.20 99.91 L153.67 99.56 L154.15 99.22 L154.63 98.87 L155.12 98.53 L155.61 98.19 L156.11 97.84 L156.61 97.50 L157.11 97.16 L157.62 96.82 L158.13 96.49 L158.65 96.15 L159.17 95.82 L159.70 95.50 L160.22 95.18 L160.76 94.86 L161.29 94.55 L161.83 94.24 L162.37 93.94 L162.91 93.64 L163.46 93.35 L164.01 93.07 L164.56 92.80 L165.11 92.54 L165.67 92.28 L166.23 92.03 L166.79 91.80 L167.35 91.57 L167.91 91.35 L168.48 91.15 L169.05 90.95 L169.61 90.77 L170.18 90.60 L170.76 90.44 L171.33 90.30 L171.90 90.17 L172.47 90.05 L173.05 89.95 L173.62 89.87 L174.20 89.80 L174.78 89.74 L175.35 89.70 L175.93 89.68 L176.50 89.67 L177.08 89.68 L177.66 89.70 L178.23 89.73 L178.81 89.78 L179.39 89.84 L179.97 89.91 L180.55 89.99 L181.12 90.09 L181.70 90.19 L182.28 90.31 L182.86 90.43 L183.44 90.57 L184.02 90.71 L184.60 90.86 L185.18 91.02 L185.76 91.18 L186.34 91.35 L186.92 91.53 L187.50 91.71 L188.08 91.90 L188.66 92.09 L189.24 92.28 L189.82 92.48 L190.40 92.68 L190.98 92.89 L191.56 93.09 L192.14 93.30 L192.72 93.51 L193.31 93.71 L193.89 93.92 L194.47 94.13 L195.05 94.33 L195.63 94.54 L196.22 94.74 L196.80 94.94 L197.38 95.13 L197.96 95.33 L198.55 95.51 L199.13 95.70 L199.71 95.87 L200.29 96.04 L200.88 96.21 L201.46 96.37 L202.04 96.52 L202.63 96.67 L203.21 96.81 L203.80 96.95 L204.38 97.08 L204.96 97.21 L205.55 97.33 L206.13 97.44 L206.72 97.55 L207.30 97.66 L207.89 97.76 L208.48 97.86 L209.06 97.95 L209.65 98.04 L210.24 98.12 L210.82 98.20 L211.41 98.28 L212.00 98.35 L212.59 98.42 L213.18 98.49 L213.77 98.55 L214.36 98.61 L214.95 98.66 L215.54 98.72 L216.13 98.77 L216.72 98.82 L217.31 98.86 L217.91 98.90 L218.50 98.94 L219.09 98.98 L219.69 99.02 L220.28 99.05 L220.88 99.09 L221.47 99.11 L222.07 99.14 L222.67 99.17 L223.26 99.19 L223.86 99.22 L224.46 99.24 L225.06 99.26 L225.66 99.27 L226.26 99.29 L226.86 99.31 L227.46 99.32 L228.06 99.33 L228.66 99.34 L229.26 99.35 L229.86 99.36 L230.46 99.37 L231.06 99.38 L231.66 99.38 L232.26 99.39 L232.87 99.39 L233.47 99.40 L234.07 99.40 L234.67 99.40 L235.28 99.40 L235.88 99.41 L236.48 99.41 L237.08 99.41 L237.69 99.41 L238.29 99.41 L238.89 99.41 L239.50 99.41 L240.10 99.41 L240.70 99.41 L241.30 99.41 L241.91 99.41 L242.51 99.42 L243.11 99.42 L243.72 99.42 L244.32 99.42 L244.92 99.43 L245.52 99.43 L246.13 99.43 L246.73 99.44 L247.33 99.45 L247.93 99.45 L248.53 99.46 L249.14 99.47 L249.74 99.48 L250.34 99.49 L250.94 99.50 L251.54 99.51 L252.14 99.53 L252.74 99.54 L253.34 99.56 L253.94 99.57 L254.54 99.59 L255.14 99.61 L255.74 99.63 L256.34 99.64 L256.94 99.66 L257.54 99.68 L258.14 99.70 L258.74 99.73 L259.34 99.75 L259.93 99.77 L260.53 99.79 L261.13 99.82 L261.73 99.84 L262.33 99.86 L262.93 99.89 L263.53 99.91 L264.12 99.94 L264.72 99.96 L265.32 99.99 L265.92 100.02 L266.52 100.04 L267.12 100.07 L267.71 100.10 L268.31 100.12 L268.91 100.15 L269.51 100.18 L270.11 100.21 L270.71 100.23 L271.30 100.26 L271.90 100.29 L272.50 100.32 L273.10 100.34 L273.70 100.37 L274.30 100.40 L274.89 100.43 L275.49 100.46 L276.09 100.48 L276.69 100.51 L277.29 100.54 L277.89 100.57 L278.49 100.60 L279.08 100.63 L279.68 100.65 L280.28 100.68 L280.88 100.71 L281.48 100.74 L282.08 100.77 L282.68 100.80 L283.28 100.82 L283.88 100.85 L284.47 100.88 L285.07 100.91 L285.67 100.94 L286.27 100.97 L286.87 101.00 L287.47 101.03 L288.07 101.05 L288.67 101.08 L289.27 101.11 L289.87 101.14 L290.46 101.17 L291.06 101.20 L291.66 101.23 L292.26 101.26 L292.86 101.28 L293.46 101.31 L294.06 101.34 L294.66 101.37 L295.26 101.40 L295.86 101.43 L296.46 101.46 L297.06 101.48 L297.65 101.51 L298.25 101.54 L298.85 101.57 L299.45 101.60 L300.05 101.63 L300.65 101.65 L301.25 101.68 L301.85 101.71 L302.45 101.74 L303.05 101.77 L303.65 101.80 L304.25 101.82 L304.85 101.85 L305.45 101.88 L306.05 101.91 L306.65 101.94 L307.24 101.96 L307.84 101.99 L308.44 102.02 L309.04 102.05 L309.64 102.07 L310.24 102.10 L310.84 102.13 L311.44 102.16 L312.04 102.18 L312.64 102.21 L313.24 102.24 L313.84 102.26 L314.44 102.29 L315.04 102.32 L315.64 102.34 L316.24 102.37 L316.84 102.40 L317.44 102.42 L318.04 102.45 L318.64 102.47 L319.24 102.50 L319.84 102.53 L320.44 102.55 L321.03 102.58 L321.63 102.60 L322.23 102.63 L322.83 102.65 L323.43 102.68 L324.03 102.70 L324.63 102.73 L325.23 102.75 L325.83 102.78 L326.43 102.80 L327.03 102.83 L327.63 102.85 L328.23 102.87 L328.83 102.90 L329.43 102.92 L330.03 102.95 L330.63 102.97 L331.23 102.99 L331.83 103.02 L332.43 103.04 L333.03 103.06 L333.63 103.09 L334.23 103.11 L334.83 103.13 L335.43 103.15 L336.03 103.18 L336.63 103.20 L337.23 103.22 L337.83 103.24 L338.42 103.27 L339.02 103.29 L339.62 103.31 L340.22 103.33 L340.82 103.35 L341.42 103.38 L342.02 103.40 L342.62 103.42 L343.22 103.44 L343.82 103.46 L344.42 103.48 L345.02 103.50 L345.62 103.52 L346.22 103.54 L346.82 103.57 L347.42 103.59 L348.02 103.61 L348.62 103.63 L349.22 103.65 L349.82 103.67 L350.42 103.69 L351.02 103.71 L351.62 103.73 L352.22 103.75 L352.82 103.77 L353.42 103.79 L354.02 103.80 L354.62 103.82 L355.22 103.84 L355.82 103.86 L356.42 103.88 L357.02 103.90 L357.62 103.92 L358.21 103.94 L358.81 103.96 L359.41 103.97 L360.01 103.99 L360.61 104.01 L361.21 104.03 L361.81 104.05 L362.41 104.07 L363.01 104.08 L363.61 104.10 L364.21 104.12 L364.81 104.14 L365.41 104.15 L366.01 104.17 L366.61 104.19 L367.21 104.21 L367.81 104.22 L368.41 104.24 L369.01 104.26 L369.61 104.27 L370.21 104.29 L370.81 104.31 L371.41 104.33 L372.01 104.34 L372.61 104.36 L373.21 104.37 L373.81 104.39 L374.41 104.41 L375.01 104.42 L375.61 104.44 L376.21 104.46 L376.81 104.47 L377.41 104.49 L378.01 104.50 L378.61 104.52 L379.21 104.53 L379.81 104.55 L380.41 104.56 L381.01 104.58 L381.61 104.60 L382.21 104.61 L382.81 104.63 L383.41 104.64 L384.01 104.66 L384.60 104.67 L385.20 104.69 L385.80 104.70 L386.40 104.71 L387.00 104.73 L387.60 104.74 L388.20 104.76 L388.80 104.77 L389.40 104.79 L390.00 104.80 L390.60 104.82 L391.20 104.83 L391.80 104.84 L392.40 104.86 L393.00 104.87 L393.60 104.88 L394.20 104.90 L394.80 104.91 L395.40 104.93 L396.00 104.94 L396.60 104.95 L397.20 104.97 L397.80 104.98 L398.40 104.99 L399.00 105.01 L399.60 105.02 L400.20 105.03 L400.80 105.04 L401.40 105.06 L402.00 105.07 L402.60 105.08 L403.20 105.10 L403.80 105.11 L404.40 105.12 L405.00 105.13 L405.60 105.15 L406.20 105.16 L406.80 105.17 L407.40 105.18 L408.00 105.19 L408.60 105.21 L409.20 105.22 L409.80 105.23 L410.40 105.24 L411.00 105.26 L411.60 105.27 L412.20 105.28 L412.80 105.29 L413.40 105.30 L414.00 105.31 L414.60 105.33 L415.20 105.34 L415.80 105.35 L416.40 105.36 L417.00 105.37 L417.60 105.38 L418.20 105.39 L418.80 105.40 L419.40 105.42 L420.00 105.43 L420.60 105.44 L421.20 105.45 L421.79 105.46 L422.39 105.47 L422.99 105.48 L423.59 105.49 L424.19 105.50 L424.79 105.51 L425.39 105.52 L425.99 105.54 L426.59 105.55 L427.19 105.56 L427.79 105.57 L428.39 105.58 L428.99 105.59 L429.59 105.60 L430.19 105.61 L430.79 105.62 L431.39 105.63 L431.99 105.64 L432.59 105.65 L433.19 105.66 L433.79 105.67 L434.39 105.68 L434.99 105.69 L435.59 105.70 L436.19 105.71 L436.79 105.72 L437.39 105.73 L437.99 105.74 L438.59 105.75 L439.19 105.76 L439.79 105.77 L440.39 105.78 L440.99 105.79 L441.59 105.80 L442.19 105.81 L442.79 105.82 L443.39 105.83 L443.99 105.84 L444.59 105.84 L445.19 105.85 L445.79 105.86 L446.39 105.87 L446.99 105.88 L447.59 105.89 L448.19 105.90 L448.79 105.91 L449.39 105.92 L449.99 105.93 L450.59 105.94 L451.19 105.95 L451.79 105.96 L452.39 105.96 L452.99 105.97 L453.59 105.98 L454.19 105.99 L454.79 106.00 L455.39 106.01 L455.99 106.02 L456.59 106.03 L457.19 106.04 L457.79 106.05 L458.39 106.05 L458.99 106.06 L459.59 106.07 L460.19 106.08 L460.79 106.09 L461.39 106.10 L461.99 106.11 L462.59 106.12 L463.19 106.12 L463.79 106.13 L464.39 106.14 L464.99 106.15 L465.59 106.16 L466.19 106.17 L466.79 106.18 L467.39 106.18 L467.99 106.19 L468.59 106.20 L469.19 106.21 L469.79 106.22 L470.39 106.23 L470.99 106.23 L471.59 106.24 L472.19 106.25 L472.79 106.26 L473.39 106.27 L473.99 106.28 L474.59 106.29 L475.19 106.29 L475.79 106.30 L476.39 106.31 L476.99 106.32 L477.59 106.33 L478.19 106.34 L478.79 106.34 L479.39 106.35 L479.99 106.36 L480.59 106.37 L481.19 106.38 L481.79 106.39 L482.39 106.39 L482.99 106.40 L483.59 106.41 L484.19 106.42 L484.79 106.43 L485.39 106.44 L485.99 106.44 L486.59 106.45 L487.19 106.46 L487.79 106.47 L488.39 106.48 L488.99 106.49 L489.59 106.49 L490.19 106.50 L490.79 106.51 L491.39 106.52 L491.99 106.53 L492.59 106.54 L493.19 106.54 L493.79 106.55 L494.39 106.56 L494.99 106.57 L495.59 106.58 L496.19 106.59 L496.79 106.59 L497.39 106.60 L497.99 106.61 L498.58 106.62 L499.18 106.63 L499.78 106.64 L500.38 106.65 L500.98 106.65 L501.58 106.66 L502.18 106.67 L502.78 106.68 L503.38 106.69 L503.98 106.70 L504.58 106.70 L505.18 106.71 L505.78 106.72 L506.38 106.73 L506.98 106.74 L507.58 106.75 L508.18 106.76 L508.78 106.76 L509.38 106.77 L509.98 106.78 L510.58 106.79 L511.18 106.80 L511.78 106.81 L512.38 106.82 L512.98 106.83 L513.58 106.83 L514.18 106.84 L514.78 106.85 L515.38 106.86 L515.98 106.87 L516.58 106.88 L517.18 106.89 L517.78 106.90 L518.38 106.91 L518.98 106.91 L519.58 106.92 L520.18 106.93 L520.78 106.94 L521.38 106.95 L521.98 106.96 L522.58 106.97 L523.18 106.98 L523.78 106.99 L524.38 107.00 L524.98 107.01 L525.58 107.02 L526.18 107.02 L526.78 107.03 L527.38 107.04 L527.98 107.05 L528.58 107.06 L529.18 107.07 L529.78 107.08 L530.38 107.09 L530.98 107.10 L531.58 107.11 L532.18 107.12 L532.78 107.13 L533.38 107.14 L533.98 107.15 L534.58 107.16 L535.18 107.17 L535.78 107.18 L536.38 107.19 L536.98 107.20 L537.35 107.20" stroke="#77AC30" stroke-width="2.55"/>
<path class="curve" d="M56.63 341.26 L57.25 341.00 L57.85 340.73 L58.42 340.43 L58.96 340.11 L59.48 339.78 L59.98 339.43 L60.46 339.06 L60.91 338.67 L61.35 338.27 L61.76 337.85 L62.16 337.42 L62.53 336.97 L62.89 336.51 L63.24 336.04 L63.56 335.56 L63.87 335.06 L64.17 334.56 L64.45 334.04 L64.73 333.52 L64.98 332.98 L65.23 332.44 L65.47 331.90 L65.70 331.34 L65.91 330.78 L66.13 330.21 L66.33 329.64 L66.53 329.07 L66.72 328.49 L66.90 327.91 L67.09 327.33 L67.27 326.75 L67.44 326.16 L67.62 325.58 L67.79 325.00 L67.96 324.41 L68.13 323.83 L68.30 323.25 L68.47 322.66 L68.64 322.08 L68.80 321.50 L68.96 320.92 L69.12 320.33 L69.28 319.75 L69.44 319.17 L69.60 318.59 L69.75 318.00 L69.91 317.42 L70.06 316.84 L70.21 316.26 L70.36 315.67 L70.51 315.09 L70.65 314.51 L70.80 313.93 L70.94 313.34 L71.08 312.76 L71.22 312.18 L71.36 311.60 L71.49 311.01 L71.63 310.43 L71.76 309.85 L71.89 309.26 L72.02 308.68 L72.15 308.09 L72.28 307.51 L72.40 306.92 L72.53 306.34 L72.65 305.75 L72.77 305.17 L72.89 304.58 L73.01 303.99 L73.12 303.41 L73.24 302.82 L73.35 302.23 L73.46 301.64 L73.57 301.05 L73.68 300.47 L73.79 299.88 L73.89 299.29 L74.00 298.70 L74.10 298.11 L74.20 297.52 L74.30 296.93 L74.40 296.34 L74.50 295.75 L74.59 295.16 L74.69 294.56 L74.78 293.97 L74.88 293.38 L74.97 292.79 L75.06 292.20 L75.15 291.60 L75.24 291.01 L75.33 290.42 L75.41 289.82 L75.50 289.23 L75.58 288.64 L75.67 288.04 L75.75 287.45 L75.83 286.86 L75.91 286.26 L75.99 285.67 L76.07 285.07 L76.15 284.48 L76.22 283.88 L76.30 283.29 L76.38 282.69 L76.45 282.10 L76.52 281.50 L76.60 280.91 L76.67 280.31 L76.74 279.71 L76.81 279.12 L76.88 278.52 L76.95 277.92 L77.02 277.33 L77.09 276.73 L77.16 276.13 L77.23 275.54 L77.29 274.94 L77.36 274.34 L77.43 273.75 L77.49 273.15 L77.56 272.55 L77.62 271.95 L77.69 271.36 L77.75 270.76 L77.81 270.16 L77.88 269.56 L77.94 268.97 L78.00 268.37 L78.07 267.77 L78.13 267.17 L78.19 266.58 L78.25 265.98 L78.31 265.38 L78.37 264.78 L78.44 264.19 L78.50 263.59 L78.56 262.99 L78.62 262.39 L78.68 261.79 L78.74 261.20 L78.80 260.60 L78.86 260.00 L78.92 259.40 L78.98 258.81 L79.04 258.21 L79.10 257.61 L79.17 257.01 L79.23 256.42 L79.29 255.82 L79.35 255.22 L79.41 254.62 L79.47 254.03 L79.53 253.43 L79.59 252.83 L79.65 252.24 L79.72 251.64 L79.78 251.04 L79.84 250.44 L79.90 249.85 L79.96 249.25 L80.02 248.65 L80.08 248.06 L80.15 247.46 L80.21 246.86 L80.27 246.27 L80.33 245.67 L80.39 245.07 L80.46 244.48 L80.52 243.88 L80.58 243.28 L80.64 242.69 L80.70 242.09 L80.76 241.49 L80.83 240.90 L80.89 240.30 L80.95 239.70 L81.01 239.11 L81.08 238.51 L81.14 237.91 L81.20 237.32 L81.26 236.72 L81.33 236.13 L81.39 235.53 L81.45 234.93 L81.51 234.34 L81.58 233.74 L81.64 233.14 L81.70 232.55 L81.76 231.95 L81.83 231.35 L81.89 230.76 L81.95 230.16 L82.01 229.57 L82.08 228.97 L82.14 228.37 L82.20 227.78 L82.27 227.18 L82.33 226.59 L82.39 225.99 L82.46 225.39 L82.52 224.80 L82.58 224.20 L82.64 223.61 L82.71 223.01 L82.77 222.41 L82.83 221.82 L82.90 221.22 L82.96 220.63 L83.02 220.03 L83.09 219.43 L83.15 218.84 L83.21 218.24 L83.28 217.65 L83.34 217.05 L83.41 216.45 L83.47 215.86 L83.53 215.26 L83.60 214.67 L83.66 214.07 L83.72 213.47 L83.79 212.88 L83.85 212.28 L83.91 211.69 L83.98 211.09 L84.04 210.49 L84.11 209.90 L84.17 209.30 L84.23 208.71 L84.30 208.11 L84.36 207.51 L84.43 206.92 L84.49 206.32 L84.55 205.72 L84.62 205.13 L84.68 204.53 L84.75 203.94 L84.81 203.34 L84.87 202.74 L84.94 202.15 L85.00 201.55 L85.07 200.96 L85.13 200.36 L85.20 199.76 L85.26 199.17 L85.32 198.57 L85.39 197.98 L85.45 197.38 L85.52 196.78 L85.58 196.19 L85.65 195.59 L85.71 194.99 L85.78 194.40 L85.84 193.80 L85.90 193.20 L85.97 192.61 L86.03 192.01 L86.10 191.42 L86.16 190.82 L86.23 190.22 L86.29 189.63 L86.36 189.03 L86.42 188.43 L86.49 187.84 L86.55 187.24 L86.62 186.64 L86.68 186.05 L86.74 185.45 L86.81 184.85 L86.87 184.26 L86.94 183.66 L87.00 183.06 L87.07 182.47 L87.13 181.87 L87.20 181.27 L87.26 180.68 L87.33 180.08 L87.39 179.48 L87.46 178.88 L87.52 178.29 L87.59 177.69 L87.65 177.09 L87.72 176.50 L87.78 175.90 L87.85 175.30 L87.91 174.70 L87.98 174.11 L88.04 173.51 L88.11 172.91 L88.17 172.31 L88.24 171.72 L88.30 171.12 L88.37 170.52 L88.43 169.92 L88.50 169.33 L88.56 168.73 L88.63 168.13 L88.69 167.53 L88.76 166.94 L88.82 166.34 L88.89 165.74 L88.95 165.14 L89.02 164.54 L89.09 163.95 L89.15 163.35 L89.22 162.75 L89.28 162.15 L89.35 161.56 L89.41 160.96 L89.48 160.36 L89.54 159.76 L89.61 159.16 L89.67 158.57 L89.74 157.97 L89.80 157.37 L89.87 156.77 L89.94 156.17 L90.00 155.58 L90.07 154.98 L90.13 154.38 L90.20 153.78 L90.27 153.19 L90.33 152.59 L90.40 151.99 L90.46 151.39 L90.53 150.80 L90.60 150.20 L90.66 149.60 L90.73 149.00 L90.79 148.41 L90.86 147.81 L90.93 147.21 L90.99 146.62 L91.06 146.02 L91.13 145.42 L91.19 144.82 L91.26 144.23 L91.33 143.63 L91.39 143.04 L91.46 142.44 L91.53 141.84 L91.60 141.25 L91.66 140.65 L91.73 140.05 L91.80 139.46 L91.86 138.86 L91.93 138.27 L92.00 137.67 L92.07 137.08 L92.14 136.48 L92.20 135.89 L92.27 135.29 L92.34 134.70 L92.41 134.10 L92.48 133.51 L92.54 132.91 L92.61 132.32 L92.68 131.72 L92.75 131.13 L92.82 130.54 L92.89 129.94 L92.96 129.35 L93.03 128.75 L93.09 128.16 L93.16 127.57 L93.23 126.98 L93.30 126.38 L93.37 125.79 L93.44 125.20 L93.51 124.61 L93.58 124.01 L93.65 123.42 L93.72 122.83 L93.79 122.24 L93.86 121.65 L93.93 121.06 L94.00 120.47 L94.08 119.88 L94.15 119.29 L94.22 118.69 L94.29 118.11 L94.36 117.52 L94.43 116.93 L94.50 116.34 L94.57 115.75 L94.65 115.16 L94.72 114.57 L94.79 113.98 L94.87 113.39 L94.94 112.80 L95.02 112.21 L95.09 111.62 L95.17 111.03 L95.25 110.44 L95.33 109.85 L95.42 109.26 L95.50 108.67 L95.59 108.07 L95.68 107.48 L95.77 106.88 L95.86 106.29 L95.96 105.69 L96.06 105.09 L96.16 104.49 L96.27 103.89 L96.38 103.29 L96.49 102.68 L96.61 102.07 L96.73 101.47 L96.86 100.86 L96.99 100.24 L97.12 99.63 L97.26 99.01 L97.40 98.39 L97.55 97.77 L97.70 97.15 L97.86 96.53 L98.03 95.91 L98.20 95.29 L98.39 94.68 L98.60 94.08 L98.81 93.49 L99.05 92.92 L99.30 92.35 L99.58 91.81 L99.87 91.29 L100.19 90.79 L100.53 90.31 L100.91 89.86 L101.31 89.44 L101.73 89.05 L102.18 88.69 L102.65 88.39 L103.13 88.13 L103.62 87.94 L104.11 87.80 L104.60 87.74 L105.08 87.75 L105.56 87.83 L106.02 87.97 L106.48 88.18 L106.93 88.45 L107.38 88.76 L107.82 89.12 L108.24 89.53 L108.67 89.97 L109.08 90.44 L109.49 90.94 L109.88 91.46 L110.27 92.00 L110.66 92.56 L111.03 93.12 L111.40 93.68 L111.76 94.24 L112.11 94.80 L112.45 95.35 L112.78 95.88 L113.11 96.40 L113.43 96.92 L113.75 97.42 L114.06 97.92 L114.37 98.42 L114.68 98.91 L114.99 99.40 L115.29 99.89 L115.60 100.38 L115.91 100.87 L116.22 101.35 L116.53 101.84 L116.85 102.33 L117.17 102.82 L117.49 103.31 L117.82 103.80 L118.15 104.28 L118.48 104.76 L118.83 105.24 L119.18 105.72 L119.53 106.19 L119.90 106.66 L120.27 107.12 L120.64 107.58 L121.03 108.04 L121.43 108.49 L121.84 108.93 L122.25 109.37 L122.68 109.80 L123.12 110.23 L123.57 110.65 L124.03 111.06 L124.51 111.46 L125.00 111.85 L125.50 112.23 L126.02 112.61 L126.54 112.96 L127.08 113.31 L127.62 113.63 L128.17 113.92 L128.73 114.20 L129.29 114.44 L129.85 114.66 L130.42 114.84 L130.98 114.99 L131.55 115.10 L132.12 115.17 L132.68 115.20 L133.24 115.18 L133.80 115.13 L134.35 115.04 L134.91 114.92 L135.46 114.78 L136.01 114.60 L136.56 114.40 L137.11 114.17 L137.66 113.93 L138.21 113.67 L138.75 113.39 L139.30 113.10 L139.85 112.81 L140.39 112.50 L140.94 112.20 L141.49 111.89 L142.04 111.58 L142.59 111.28 L143.14 110.98 L143.70 110.69 L144.25 110.41 L144.81 110.15 L145.37 109.90 L145.93 109.67 L146.50 109.46 L147.07 109.27 L147.64 109.09 L148.21 108.93 L148.78 108.78 L149.36 108.64 L149.93 108.52 L150.51 108.42 L151.10 108.32 L151.68 108.24 L152.26 108.17 L152.85 108.11 L153.44 108.06 L154.02 108.02 L154.61 107.99 L155.21 107.97 L155.80 107.95 L156.39 107.95 L156.99 107.95 L157.58 107.95 L158.18 107.96 L158.77 107.98 L159.37 108.00 L159.97 108.02 L160.57 108.05 L161.17 108.08 L161.77 108.11 L162.37 108.15 L162.97 108.18 L163.57 108.22 L164.17 108.25 L164.77 108.28 L165.37 108.31 L165.98 108.34 L166.58 108.37 L167.18 108.40 L167.78 108.43 L168.38 108.45 L168.98 108.47 L169.58 108.49 L170.18 108.51 L170.78 108.53 L171.38 108.55 L171.98 108.56 L172.58 108.58 L173.18 108.59 L173.78 108.60 L174.38 108.61 L174.98 108.62 L175.58 108.63 L176.19 108.64 L176.79 108.65 L177.39 108.66 L177.99 108.66 L178.59 108.67 L179.19 108.67 L179.79 108.67 L180.39 108.68 L180.99 108.68 L181.59 108.68 L182.19 108.68 L182.79 108.69 L183.39 108.69 L183.99 108.69 L184.59 108.69 L185.19 108.69 L185.79 108.69 L186.39 108.69 L186.99 108.69 L187.59 108.69 L188.19 108.69 L188.79 108.69 L189.39 108.69 L189.99 108.69 L190.59 108.69 L191.19 108.69 L191.79 108.69 L192.39 108.69 L192.99 108.69 L193.59 108.69 L194.19 108.69 L194.79 108.69 L195.39 108.69 L195.99 108.69 L196.59 108.69 L197.19 108.69 L197.79 108.69 L198.39 108.70 L198.99 108.70 L199.59 108.70 L200.19 108.70 L200.79 108.70 L201.39 108.70 L201.99 108.70 L202.59 108.70 L203.19 108.71 L203.79 108.71 L204.39 108.71 L204.99 108.71 L205.59 108.71 L206.19 108.71 L206.79 108.72 L207.39 108.72 L207.99 108.72 L208.59 108.72 L209.19 108.72 L209.79 108.72 L210.39 108.73 L210.99 108.73 L211.59 108.73 L212.19 108.73 L212.79 108.73 L213.39 108.74 L213.99 108.74 L214.59 108.74 L215.19 108.74 L215.79 108.75 L216.39 108.75 L216.99 108.75 L217.59 108.75 L218.19 108.75 L218.79 108.76 L219.39 108.76 L219.99 108.76 L220.59 108.76 L221.19 108.77 L221.79 108.77 L222.39 108.77 L222.99 108.77 L223.59 108.78 L224.19 108.78 L224.79 108.78 L225.39 108.79 L225.99 108.79 L226.59 108.79 L227.19 108.79 L227.79 108.80 L228.39 108.80 L228.99 108.80 L229.59 108.80 L230.19 108.81 L230.79 108.81 L231.39 108.81 L231.99 108.81 L232.59 108.82 L233.19 108.82 L233.79 108.82 L234.39 108.83 L234.99 108.83 L235.59 108.83 L236.19 108.83 L236.79 108.84 L237.39 108.84 L237.99 108.84 L238.59 108.85 L239.19 108.85 L239.79 108.85 L240.39 108.85 L240.99 108.86 L241.59 108.86 L242.19 108.86 L242.79 108.86 L243.39 108.87 L243.99 108.87 L244.59 108.87 L245.19 108.87 L245.79 108.88 L246.39 108.88 L246.99 108.88 L247.59 108.89 L248.19 108.89 L248.79 108.89 L249.39 108.89 L249.99 108.90 L250.59 108.90 L251.19 108.90 L251.79 108.90 L252.39 108.90 L252.99 108.91 L253.59 108.91 L254.19 108.91 L254.79 108.91 L255.39 108.92 L255.99 108.92 L256.59 108.92 L257.19 108.92 L257.79 108.93 L258.39 108.93 L258.99 108.93 L259.59 108.93 L260.19 108.94 L260.79 108.94 L261.39 108.94 L261.99 108.94 L262.59 108.94 L263.19 108.95 L263.79 108.95 L264.39 108.95 L264.99 108.95 L265.59 108.96 L266.19 108.96 L266.79 108.96 L267.39 108.96 L267.99 108.96 L268.59 108.97 L269.19 108.97 L269.79 108.97 L270.39 108.97 L270.99 108.97 L271.59 108.98 L272.19 108.98 L272.79 108.98 L273.39 108.98 L273.99 108.98 L274.59 108.99 L275.19 108.99 L275.79 108.99 L276.39 108.99 L276.99 108.99 L277.59 109.00 L278.19 109.00 L278.79 109.00 L279.39 109.00 L279.99 109.00 L280.59 109.01 L281.19 109.01 L281.79 109.01 L282.39 109.01 L282.99 109.01 L283.59 109.02 L284.19 109.02 L284.79 109.02 L285.39 109.02 L285.99 109.02 L286.59 109.02 L287.19 109.03 L287.79 109.03 L288.39 109.03 L288.99 109.03 L289.59 109.03 L290.19 109.04 L290.79 109.04 L291.39 109.04 L291.99 109.04 L292.59 109.04 L293.19 109.04 L293.79 109.05 L294.39 109.05 L294.99 109.05 L295.59 109.05 L296.19 109.05 L296.79 109.05 L297.39 109.06 L297.99 109.06 L298.59 109.06 L299.19 109.06 L299.79 109.06 L300.39 109.06 L300.99 109.07 L301.59 109.07 L302.19 109.07 L302.79 109.07 L303.39 109.07 L303.99 109.07 L304.59 109.08 L305.19 109.08 L305.79 109.08 L306.39 109.08 L306.99 109.08 L307.59 109.08 L308.19 109.09 L308.79 109.09 L309.39 109.09 L309.99 109.09 L310.59 109.09 L311.19 109.09 L311.79 109.10 L312.39 109.10 L312.99 109.10 L313.59 109.10 L314.19 109.10 L314.79 109.10 L315.39 109.11 L315.99 109.11 L316.59 109.11 L317.19 109.11 L317.79 109.11 L318.39 109.11 L318.99 109.12 L319.59 109.12 L320.19 109.12 L320.79 109.12 L321.39 109.12 L321.99 109.12 L322.59 109.13 L323.19 109.13 L323.79 109.13 L324.39 109.13 L324.99 109.13 L325.59 109.13 L326.19 109.13 L326.79 109.14 L327.39 109.14 L327.99 109.14 L328.59 109.14 L329.19 109.14 L329.79 109.14 L330.39 109.15 L330.99 109.15 L331.59 109.15 L332.19 109.15 L332.79 109.15 L333.39 109.15 L333.99 109.16 L334.59 109.16 L335.19 109.16 L335.79 109.16 L336.39 109.16 L336.99 109.16 L337.59 109.17 L338.19 109.17 L338.79 109.17 L339.39 109.17 L339.99 109.17 L340.59 109.17 L341.19 109.18 L341.79 109.18 L342.39 109.18 L342.99 109.18 L343.59 109.18 L344.19 109.18 L344.79 109.19 L345.39 109.19 L345.99 109.19 L346.59 109.19 L347.19 109.19 L347.79 109.19 L348.39 109.20 L348.99 109.20 L349.59 109.20 L350.19 109.20 L350.79 109.20 L351.39 109.21 L351.99 109.21 L352.59 109.21 L353.19 109.21 L353.79 109.21 L354.39 109.21 L354.99 109.22 L355.59 109.22 L356.19 109.22 L356.79 109.22 L357.39 109.22 L357.99 109.22 L358.59 109.23 L359.19 109.23 L359.79 109.23 L360.39 109.23 L360.99 109.23 L361.59 109.24 L362.19 109.24 L362.79 109.24 L363.39 109.24 L363.99 109.24 L364.59 109.25 L365.19 109.25 L365.79 109.25 L366.39 109.25 L366.99 109.25 L367.59 109.25 L368.19 109.26 L368.79 109.26 L369.39 109.26 L369.99 109.26 L370.59 109.26 L371.19 109.27 L371.79 109.27 L372.39 109.27 L372.99 109.27 L373.59 109.27 L374.19 109.28 L374.79 109.28 L375.39 109.28 L375.99 109.28 L376.59 109.28 L377.19 109.29 L377.79 109.29 L378.39 109.29 L378.99 109.29 L379.59 109.29 L380.19 109.29 L380.79 109.30 L381.39 109.30 L381.99 109.30 L382.59 109.30 L383.19 109.30 L383.79 109.31 L384.39 109.31 L384.99 109.31 L385.59 109.31 L386.19 109.31 L386.79 109.32 L387.39 109.32 L387.99 109.32 L388.59 109.32 L389.19 109.32 L389.79 109.33 L390.39 109.33 L390.99 109.33 L391.59 109.33 L392.19 109.34 L392.79 109.34 L393.39 109.34 L393.99 109.34 L394.59 109.34 L395.19 109.35 L395.79 109.35 L396.39 109.35 L396.99 109.35 L397.59 109.35 L398.19 109.36 L398.79 109.36 L399.39 109.36 L399.99 109.36 L400.59 109.36 L401.19 109.37 L401.79 109.37 L402.39 109.37 L402.99 109.37 L403.59 109.37 L404.19 109.38 L404.79 109.38 L405.39 109.38 L405.99 109.38 L406.59 109.39 L407.19 109.39 L407.79 109.39 L408.39 109.39 L408.99 109.39 L409.59 109.40 L410.19 109.40 L410.79 109.40 L411.39 109.40 L411.99 109.40 L412.59 109.41 L413.19 109.41 L413.79 109.41 L414.39 109.41 L414.99 109.42 L415.59 109.42 L416.19 109.42 L416.79 109.42 L417.39 109.42 L417.99 109.43 L418.59 109.43 L419.19 109.43 L419.79 109.43 L420.39 109.44 L420.99 109.44 L421.59 109.44 L422.19 109.44 L422.79 109.44 L423.39 109.45 L423.99 109.45 L424.59 109.45 L425.19 109.45 L425.79 109.46 L426.39 109.46 L426.99 109.46 L427.59 109.46 L428.19 109.46 L428.79 109.47 L429.39 109.47 L429.99 109.47 L430.59 109.47 L431.19 109.48 L431.79 109.48 L432.39 109.48 L432.99 109.48 L433.59 109.48 L434.19 109.49 L434.79 109.49 L435.39 109.49 L435.99 109.49 L436.59 109.50 L437.19 109.50 L437.79 109.50 L438.39 109.50 L438.99 109.50 L439.59 109.51 L440.19 109.51 L440.79 109.51 L441.39 109.51 L441.99 109.52 L442.59 109.52 L443.19 109.52 L443.79 109.52 L444.39 109.53 L444.99 109.53 L445.59 109.53 L446.19 109.53 L446.79 109.53 L447.39 109.54 L447.99 109.54 L448.59 109.54 L449.19 109.54 L449.79 109.55 L450.39 109.55 L450.99 109.55 L451.59 109.55 L452.19 109.56 L452.79 109.56 L453.39 109.56 L453.99 109.56 L454.59 109.57 L455.19 109.57 L455.79 109.57 L456.39 109.57 L456.99 109.57 L457.59 109.58 L458.19 109.58 L458.79 109.58 L459.39 109.58 L459.99 109.59 L460.59 109.59 L461.19 109.59 L461.79 109.59 L462.39 109.60 L462.99 109.60 L463.59 109.60 L464.19 109.60 L464.79 109.61 L465.39 109.61 L465.99 109.61 L466.59 109.61 L467.19 109.61 L467.79 109.62 L468.39 109.62 L468.99 109.62 L469.59 109.62 L470.19 109.63 L470.79 109.63 L471.39 109.63 L471.99 109.63 L472.59 109.64 L473.19 109.64 L473.79 109.64 L474.39 109.64 L474.99 109.65 L475.59 109.65 L476.19 109.65 L476.79 109.65 L477.39 109.66 L477.99 109.66 L478.59 109.66 L479.19 109.66 L479.79 109.66 L480.39 109.67 L480.99 109.67 L481.59 109.67 L482.19 109.67 L482.79 109.68 L483.39 109.68 L483.99 109.68 L484.59 109.68 L485.19 109.69 L485.79 109.69 L486.39 109.69 L486.99 109.69 L487.59 109.70 L488.19 109.70 L488.79 109.70 L489.39 109.70 L489.99 109.71 L490.59 109.71 L491.19 109.71 L491.79 109.71 L492.39 109.72 L492.99 109.72 L493.59 109.72 L494.19 109.72 L494.79 109.73 L495.39 109.73 L495.99 109.73 L496.59 109.73 L497.19 109.74 L497.79 109.74 L498.39 109.74 L498.99 109.74 L499.59 109.75 L500.19 109.75 L500.79 109.75 L501.39 109.75 L501.99 109.75 L502.59 109.76 L503.19 109.76 L503.79 109.76 L504.39 109.76 L504.99 109.77 L505.59 109.77 L506.19 109.77 L506.79 109.77 L507.39 109.78 L507.99 109.78 L508.59 109.78 L509.19 109.78 L509.79 109.79 L510.39 109.79 L510.99 109.79 L511.59 109.79 L512.19 109.80 L512.79 109.80 L513.39 109.80 L513.99 109.80 L514.59 109.81 L515.19 109.81 L515.79 109.81 L516.39 109.81 L516.99 109.82 L517.59 109.82 L518.19 109.82 L518.79 109.82 L519.39 109.83 L519.99 109.83 L520.59 109.83 L521.19 109.83 L521.79 109.84 L522.39 109.84 L522.99 109.84 L523.59 109.84 L524.19 109.85 L524.79 109.85 L525.39 109.85 L525.99 109.85 L526.59 109.86 L527.19 109.86 L527.79 109.86 L528.39 109.86 L528.99 109.87 L529.59 109.87 L530.19 109.87 L530.79 109.87 L531.39 109.88 L531.99 109.88 L532.59 109.88 L533.19 109.88 L533.79 109.89 L534.39 109.89 L534.99 109.89 L535.59 109.89 L536.19 109.90 L536.79 109.90 L537.35 109.90" stroke="#0000FF" stroke-width="2.65"/>
<line x1="56.7" y1="107.2" x2="296.5" y2="107.2" stroke="#000" stroke-width="1.45" stroke-linecap="round" stroke-dasharray="0.01 2.51"/>
</g>
<g font-size="17"><text x="57.00" y="360.4" text-anchor="middle" textLength="8.4" lengthAdjust="spacingAndGlyphs">0</text><text x="153.13" y="360.4" text-anchor="middle" textLength="8.4" lengthAdjust="spacingAndGlyphs">2</text><text x="249.26" y="360.4" text-anchor="middle" textLength="8.4" lengthAdjust="spacingAndGlyphs">4</text><text x="345.39" y="360.4" text-anchor="middle" textLength="8.4" lengthAdjust="spacingAndGlyphs">6</text><text x="441.52" y="360.4" text-anchor="middle" textLength="8.4" lengthAdjust="spacingAndGlyphs">8</text><text x="537.65" y="360.4" text-anchor="middle" textLength="16.8" lengthAdjust="spacingAndGlyphs">10</text><text x="52.4" y="345.56" text-anchor="end" textLength="8.4" lengthAdjust="spacingAndGlyphs">0</text><text x="52.4" y="298.75" text-anchor="end" textLength="21.2" lengthAdjust="spacingAndGlyphs">0.2</text><text x="52.4" y="251.95" text-anchor="end" textLength="21.2" lengthAdjust="spacingAndGlyphs">0.4</text><text x="52.4" y="205.14" text-anchor="end" textLength="21.2" lengthAdjust="spacingAndGlyphs">0.6</text><text x="52.4" y="158.34" text-anchor="end" textLength="21.2" lengthAdjust="spacingAndGlyphs">0.8</text><text x="52.4" y="111.53" text-anchor="end" textLength="8.4" lengthAdjust="spacingAndGlyphs">1</text><text x="52.4" y="64.73" text-anchor="end" textLength="21.2" lengthAdjust="spacingAndGlyphs">1.2</text><text x="52.4" y="17.92" text-anchor="end" textLength="21.2" lengthAdjust="spacingAndGlyphs">1.4</text></g>
<text class="it" x="258.9" y="382.2" font-size="17.8" textLength="78.4" lengthAdjust="spacingAndGlyphs">Time(sec)</text>
<g transform="translate(21.2,186) rotate(-90)"><text class="it" x="0" y="0" font-size="17.5">θ</text><text class="rm" x="8.2" y="-5.1" font-size="15">∘</text></g>
<rect x="370.9" y="232.4" width="160.45" height="102.95" fill="#fff" stroke="#4a4a4a" stroke-width="0.85"/>
<line x1="373.6" y1="242.95" x2="398.7" y2="242.95" stroke="#7E2F8E" stroke-width="2.2"/><text class="it" x="400.6" y="246.70" font-size="16.5">θ</text><text class="rm" x="408.2" y="241.70" font-size="14">∘</text><text class="it" x="416.3" y="250.10" font-size="12" textLength="19" lengthAdjust="spacingAndGlyphs">sim</text><text class="it" x="443.4" y="246.70" font-size="16" textLength="38.6" lengthAdjust="spacingAndGlyphs">MDP</text><line x1="373.6" y1="263.65" x2="398.7" y2="263.65" stroke="#A2142F" stroke-width="2.2"/><text class="it" x="400.6" y="267.40" font-size="16.5">θ</text><text class="rm" x="408.2" y="262.40" font-size="14">∘</text><text class="it" x="416.3" y="270.80" font-size="12" textLength="19" lengthAdjust="spacingAndGlyphs">sim</text><text class="it" x="443.4" y="267.40" font-size="16" textLength="62.8" lengthAdjust="spacingAndGlyphs">POMDP</text><line x1="373.6" y1="284.25" x2="398.7" y2="284.25" stroke="#77AC30" stroke-width="2.2"/><text class="it" x="400.6" y="288.00" font-size="16.5">θ</text><text class="rm" x="408.2" y="283.00" font-size="14">∘</text><text class="it" x="416.3" y="291.40" font-size="12" textLength="19" lengthAdjust="spacingAndGlyphs">sim</text><text class="it" x="443.4" y="288.00" font-size="16" textLength="29.3" lengthAdjust="spacingAndGlyphs">PID</text><line x1="373.6" y1="304.15" x2="398.7" y2="304.15" stroke="#0000FF" stroke-width="2.7"/><text class="it" x="400.6" y="307.90" font-size="16.5">θ</text><text class="rm" x="408.2" y="302.90" font-size="14">∘</text><text class="it" x="416.3" y="311.30" font-size="12" textLength="19" lengthAdjust="spacingAndGlyphs">sim</text><text class="it" x="443.4" y="307.90" font-size="16" textLength="32" lengthAdjust="spacingAndGlyphs">FAA</text><text class="rm" x="483.2" y="308.50" font-size="21" text-anchor="middle" style="stroke-width:0">+</text><text class="it" x="489.7" y="307.90" font-size="16" textLength="37.8" lengthAdjust="spacingAndGlyphs">MDP</text><line x1="373.6" y1="324.45" x2="398.7" y2="324.45" stroke="#000" stroke-width="1.4" stroke-linecap="round" stroke-dasharray="0.01 2.51"/><text class="it" x="400.6" y="328.20" font-size="16.5">θ</text><text class="rm" x="408.2" y="323.20" font-size="14">∘</text><text class="it" x="416.3" y="331.60" font-size="12" textLength="16.5" lengthAdjust="spacingAndGlyphs">des</text>
</svg>
</body></html>
